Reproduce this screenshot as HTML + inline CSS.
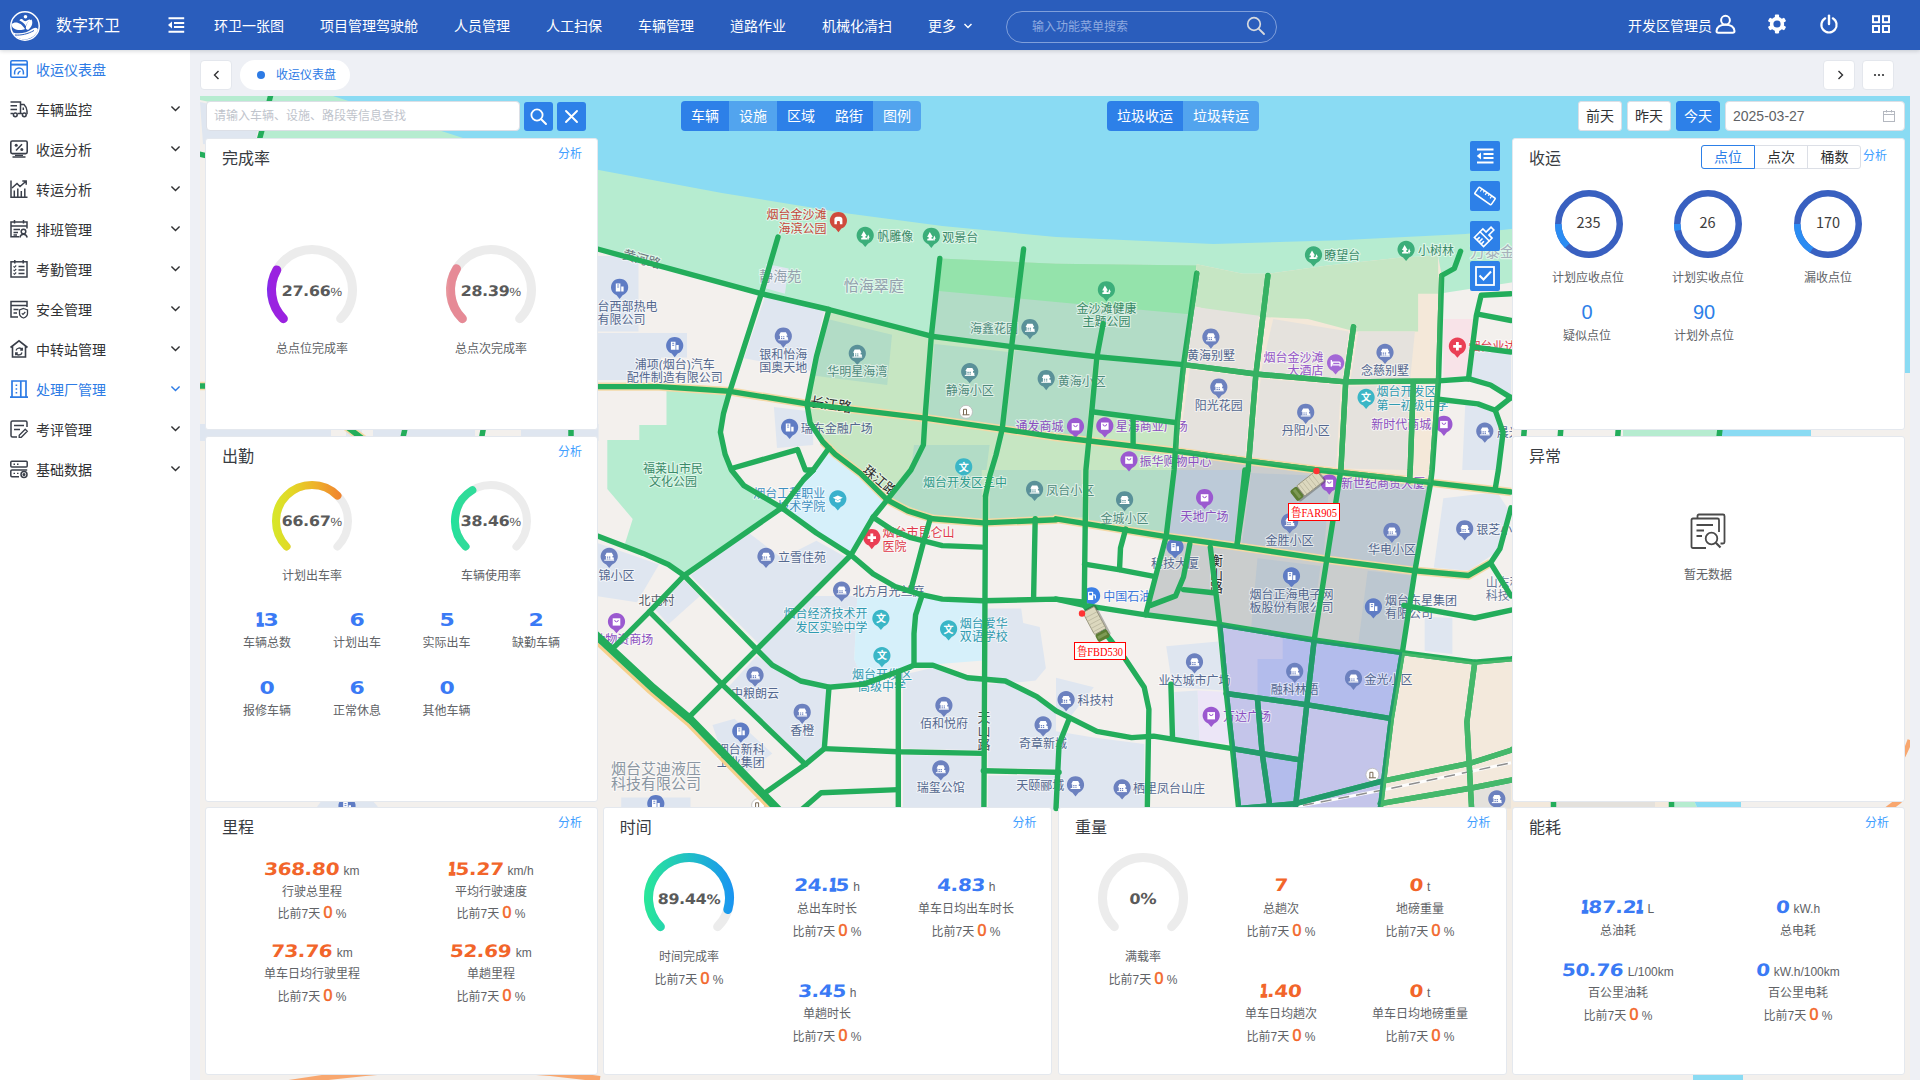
<!DOCTYPE html>
<html lang="zh-CN">
<head>
<meta charset="utf-8">
<title>数字环卫 - 收运仪表盘</title>
<style>
*{box-sizing:border-box;margin:0;padding:0}
html,body{width:1920px;height:1080px;overflow:hidden;background:#eef0f5;font-family:"Liberation Sans","Noto Sans CJK SC",sans-serif;font-size:14px;color:#303133}
.abs{position:absolute}
/* top nav */
#nav{position:absolute;left:0;top:0;width:1920px;height:50px;background:#2a5dbc;color:#fff;z-index:20;box-shadow:0 1px 4px rgba(0,21,41,.18)}
#nav .logo{position:absolute;left:10px;top:10px;width:30px;height:30px}
#nav .brand{position:absolute;left:56px;top:0;line-height:52px;font-size:16px}
#nav .fold{position:absolute;left:167px;top:16px;width:18px;height:18px}
#nav .menu{position:absolute;left:196px;top:0;height:50px;display:flex}
#nav .menu div{padding:0 18px;line-height:52px;font-size:14px;white-space:nowrap}
#nav .search{position:absolute;left:1006px;top:11px;width:271px;height:32px;border:1px solid #7f9fdb;border-radius:16px;font-size:12px;line-height:31px;color:#8eaae0;padding-left:25px}
#nav .user{position:absolute;left:1628px;top:0;line-height:52px;font-size:14px}
/* sidebar */
#side{position:absolute;left:0;top:50px;width:190px;height:1030px;background:#fff;z-index:10}
#side .it{position:relative;height:40px;line-height:40px;padding-left:36px;font-size:14px;color:#303133}
#side .it svg.ic{position:absolute;left:9px;top:9.2px;width:20px;height:20px}
#side .it svg.ar{position:absolute;left:169.5px;top:13.3px;width:11px;height:11px}
#side .it.on{color:#2d7be5}
/* tabs */
#tabs{position:absolute;left:190px;top:50px;width:1730px;height:46px}
.tbtn{position:absolute;top:10px;height:30px;background:#fff;border:1px solid #e4e7ed;border-radius:4px}
#tabs .pill{position:absolute;left:50px;top:10px;height:30px;width:110px;white-space:nowrap;border-radius:15px;background:#fff;color:#2d7be5;font-size:12px;line-height:30px;padding-left:36px}
#tabs .pill i{position:absolute;left:17px;top:11px;width:8px;height:8px;border-radius:50%;background:#2d7be5}
/* map */
#map{position:absolute;left:200px;top:96px;width:1710px;height:984px;overflow:hidden;background:#f3f0ed}
#map svg.m{position:absolute;left:0;top:0}
/* toolbar */
.bar{position:absolute;top:101px;height:30px;z-index:5}
.inp{background:#fff;border:1px solid #dcdfe6;border-radius:4px}
.bg{display:flex;border-radius:4px;overflow:hidden;font-size:14px;color:#fff;line-height:30px;text-align:center}
.bg div{background:#2d80e8}
.bg div.l{background:#52a4ee}
.sq{position:absolute;background:#2d80e8;border-radius:3px}
.db{position:absolute;top:101px;height:30px;width:44px;border:1px solid #dcdfe6;border-radius:3px;background:#fff;font-size:14px;line-height:28px;text-align:center;color:#303133;z-index:5}
/* panels */
.card{position:absolute;background:#fff;border:1px solid #e4e8ee;border-radius:3px;z-index:4}
.card h3{position:absolute;left:16px;top:9.5px;font-size:16px;font-weight:400;color:#383c42;line-height:22px}
.card .an{position:absolute;right:15px;top:7px;font-size:12px;color:#409eff;line-height:16px}
.c{position:absolute;text-align:center;white-space:nowrap;transform:translateX(-50%)}
.lb{font-size:12px;color:#606266;line-height:16px}
.num{font-family:"DejaVu Sans","Liberation Sans",sans-serif;font-weight:bold;letter-spacing:-0.3px}
.n1{display:inline-block;width:.35em;font-style:normal}.n1 i{display:inline-block;font-style:normal;transform:scaleX(.55);transform-origin:0 50%;-webkit-text-stroke:1.3px currentColor}
.or{color:#f2652a}.bl{color:#3a7af5}.gy{color:#5a5a5a}
.u{font-family:"Liberation Sans",sans-serif;font-weight:400;font-size:12px;color:#606266;letter-spacing:0}
.cmp{font-size:12px;color:#606266;line-height:18px}
.cmp b{font-family:"Liberation Sans",sans-serif;font-size:16px;font-weight:400;color:#f2652a;-webkit-text-stroke:.5px #f2652a}
</style>
</head>
<body>
<div id="nav">
  <svg class="logo" viewBox="0 0 30 30" style="top:10.5px"><circle cx="15" cy="15" r="14.2" fill="none" stroke="#fff" stroke-width="1.5"/>
    <path d="M1.5 13 C5 10 11 11 15 18 C12 19.5 7 19.5 4 17.5 C2.5 16.5 1.7 15 1.5 13Z M16 18 C15.5 14 17.5 10.5 21.5 8.5 C23.5 12 21.5 16.5 18 19Z M3 21.5 C9 23.5 17 22 23 17.5 C26 16 27.5 17 28 19 C25 26.5 17.5 29.5 11 28 C7 27 4.5 24.5 3 21.5Z" fill="#fff"/>
    <circle cx="15.5" cy="5.7" r="1.8" fill="#fff"/><path d="M9.5 9.5 C10 7.5 12.5 7.5 13 9 C14 10.5 16.5 10.5 18 9 C19 8 20.5 8.5 20.5 9.5 C18 10.5 16.5 12.5 15.8 15 C14.5 12.5 12 10.5 9.5 9.5Z" fill="#fff"/>
    <path d="M5 24 C11 24.5 18 23 24 19.5" stroke="#2a5dbc" stroke-width="1" fill="none"/></svg>
  <div class="brand">数字环卫</div>
  <svg class="fold" viewBox="0 0 18 18"><path d="M1.5 2.2H17.2M7 7H17.2M7 11H17.2M1.5 15.8H17.2" stroke="#fff" stroke-width="1.9" fill="none"/><path d="M5 5.6V12.4L1 9Z" fill="#fff"/></svg>
  <div class="menu"><div>环卫一张图</div><div>项目管理驾驶舱</div><div>人员管理</div><div>人工扫保</div><div>车辆管理</div><div>道路作业</div><div>机械化清扫</div><div>更多 <svg width="10" height="10" viewBox="0 0 10 10" style="margin-left:3px"><path d="M1.5 3L5 6.6L8.5 3" stroke="#fff" stroke-width="1.4" fill="none"/></svg></div></div>
  <div class="search">输入功能菜单搜索<svg class="abs" style="left:238px;top:2.5px" width="22" height="22" viewBox="0 0 22 22"><circle cx="9" cy="9" r="6.3" fill="none" stroke="#d6d9de" stroke-width="1.7"/><path d="M13.6 13.6L19 19" stroke="#d6d9de" stroke-width="1.9" stroke-linecap="round"/></svg></div>
  <div class="user">开发区管理员</div>
  <svg class="abs" style="left:1715px;top:14px" width="21" height="20" viewBox="0 0 21 20"><circle cx="10.5" cy="6.2" r="4.4" fill="none" stroke="#fff" stroke-width="2"/><path d="M1.5 17 C2 13 5.5 10.8 10.5 10.8 C15.500 10.8 19 13 19.500 17 C19.500 18.300 18.800 18.800 17.800 18.800 H3.200 C2.200 18.800 1.500 18.300 1.500 17Z" fill="none" stroke="#fff" stroke-width="2"/></svg>
  <svg class="abs" style="left:1767px;top:14px" width="20" height="20" viewBox="0 0 20 20"><g fill="#fff"><circle cx="10" cy="10" r="7.2"/><g id="gt"><rect x="7.9" y="0.6" width="4.2" height="4" rx="0.8"/><rect x="7.9" y="15.4" width="4.2" height="4" rx="0.8"/></g><use href="#gt" transform="rotate(60 10 10)"/><use href="#gt" transform="rotate(120 10 10)"/></g><circle cx="10" cy="10" r="3.6" fill="#2a5dbc"/></svg>
  <svg class="abs" style="left:1819px;top:14px" width="20" height="20" viewBox="0 0 20 20"><path d="M6.2 4.300 A7.600 7.600 0 1 0 13.800 4.300" fill="none" stroke="#fff" stroke-width="2.2" stroke-linecap="round"/><path d="M10 1.600V10" stroke="#fff" stroke-width="2.4" stroke-linecap="round"/></svg>
  <svg class="abs" style="left:1871px;top:14px" width="20" height="20" viewBox="0 0 20 20"><g fill="none" stroke="#fff" stroke-width="2"><rect x="2" y="2.200" width="6" height="6"/><rect x="12" y="2.200" width="6" height="6"/><rect x="2" y="12" width="6" height="6"/><rect x="12" y="12" width="6" height="6"/></g></svg>
</div>
<div id="side">
<div class="it on"><svg class="ic" viewBox="0 0 20 20" fill="none" stroke="#2d7be5" stroke-width="1.6"><rect x="1.8" y="1.8" width="16.4" height="16.4" rx="1.2"/><path d="M1.8 5.6H18.2" stroke-width="2"/><path d="M5.6 15.5V13.5A4.4 4.400 0 0 1 14.400 13.500V15.500" stroke-width="1.500"/><path d="M9 15.500C9 13.800 10 12.800 11.500 12.200" stroke-width="1.400"/></svg>收运仪表盘</div>
<div class="it"><svg class="ic" viewBox="0 0 20 20" fill="none" stroke="#3a3f4a" stroke-width="1.500"><path d="M1.500 3H11.500V14.600H8.500M1.500 6.800H8M1.500 10.600H8M1.500 14.600H4.200M11.500 5.500H15C17 7.500 18 9.500 18 12V14.600H17.500M11.500 14.600H13.200"/><circle cx="6.300" cy="15.800" r="1.900"/><circle cx="15.300" cy="15.800" r="1.900"/><path d="M14.300 8.500V11" /></svg>车辆监控<svg class="ar" viewBox="0 0 10 10"><path d="M1.300 3.200L5 6.800L8.700 3.200" stroke="#303133" stroke-width="1.300" fill="none"/></svg></div>
<div class="it"><svg class="ic" viewBox="0 0 20 20" fill="none" stroke="#3a3f4a" stroke-width="1.600"><rect x="1.800" y="2" width="16.400" height="12.600" rx="1.500"/><path d="M3.500 18H16.500M6 16.300H14" stroke-width="1.300"/><path d="M13 5.200L7 11.500" stroke-width="1.500"/><circle cx="7.200" cy="6.300" r="1.500" fill="#3a3f4a" stroke="none"/><circle cx="12.800" cy="10.500" r="1.500" fill="#3a3f4a" stroke="none"/></svg>收运分析<svg class="ar" viewBox="0 0 10 10"><path d="M1.300 3.200L5 6.800L8.700 3.200" stroke="#303133" stroke-width="1.300" fill="none"/></svg></div>
<div class="it"><svg class="ic" viewBox="0 0 20 20" fill="none" stroke="#3a3f4a" stroke-width="1.500"><path d="M2 1.500V18.200H18.500"/><path d="M5.300 18V11.500M8.800 18V9.500M12.300 18V12M15.800 18V9.500"/><path d="M3 9L8 4.500L11 7.500L17 2.200M13.300 2H17.200V5.800"/></svg>转运分析<svg class="ar" viewBox="0 0 10 10"><path d="M1.300 3.200L5 6.800L8.700 3.200" stroke="#303133" stroke-width="1.300" fill="none"/></svg></div>
<div class="it"><svg class="ic" viewBox="0 0 20 20" fill="none" stroke="#3a3f4a" stroke-width="1.500"><path d="M10 17.800H2V3H18V9.500M2 7H18M5.500 1V4.500M14.500 1V4.500M4.500 10.500H11M4.500 13.500H9M4.500 16H8"/><circle cx="14.500" cy="12.500" r="2.300"/><path d="M10.800 18.500C11.300 16.300 12.800 15.300 14.500 15.300C16.200 15.300 17.700 16.300 18.200 18.500"/></svg>排班管理<svg class="ar" viewBox="0 0 10 10"><path d="M1.300 3.200L5 6.800L8.700 3.200" stroke="#303133" stroke-width="1.300" fill="none"/></svg></div>
<div class="it"><svg class="ic" viewBox="0 0 20 20" fill="none" stroke="#3a3f4a" stroke-width="1.500"><rect x="2" y="2.800" width="16" height="15.200"/><path d="M5.800 1V4.500M14.200 1V4.500M9.500 7.500H15.500M9.500 11H15.500M9.500 14.500H15.500" /><path d="M4.500 7.300L5.500 8.300L7.200 6.500M4.500 10.800L5.500 11.800L7.200 10M4.500 14.300L5.500 15.300L7.200 13.500" stroke-width="1.100"/></svg>考勤管理<svg class="ar" viewBox="0 0 10 10"><path d="M1.300 3.200L5 6.800L8.700 3.200" stroke="#303133" stroke-width="1.300" fill="none"/></svg></div>
<div class="it"><svg class="ic" viewBox="0 0 20 20" fill="none" stroke="#3a3f4a" stroke-width="1.500"><path d="M9 18H2V2.500H18V8M2 6.500H18M4.500 10.500H9.500M4.500 14H8"/><path d="M14.500 9.500L18.500 11V14.500C18.500 16.500 16.500 18.300 14.500 19C12.500 18.300 10.500 16.500 10.500 14.500V11Z" stroke-width="1.300"/><path d="M12.800 14.300L14 15.500L16.300 13" stroke-width="1.200"/></svg>安全管理<svg class="ar" viewBox="0 0 10 10"><path d="M1.300 3.200L5 6.800L8.700 3.200" stroke="#303133" stroke-width="1.300" fill="none"/></svg></div>
<div class="it"><svg class="ic" viewBox="0 0 20 20" fill="none" stroke="#3a3f4a" stroke-width="1.600"><path d="M1.500 8.500L10 1.800L18.500 8.500M3.500 7.500V18H16.500V7.500"/><path d="M7 11.500A3.200 3.200 0 0 1 13 10.800M13 13.500A3.200 3.200 0 0 1 7 14.200M13.300 8.800V11H11.200M6.700 16.200V14H8.800" stroke-width="1.300"/></svg>中转站管理<svg class="ar" viewBox="0 0 10 10"><path d="M1.300 3.200L5 6.800L8.700 3.200" stroke="#303133" stroke-width="1.300" fill="none"/></svg></div>
<div class="it on"><svg class="ic" viewBox="0 0 20 20" fill="none" stroke="#2d7be5" stroke-width="1.700"><path d="M3 18V2H17V18M1 18.200H19M11.800 2V18"/><path d="M7.400 5.500V7M7.400 9.300V10.800M7.400 13V14.500" stroke-width="1.600"/></svg>处理厂管理<svg class="ar" viewBox="0 0 10 10"><path d="M1.300 3.200L5 6.800L8.700 3.200" stroke="#2d7be5" stroke-width="1.300" fill="none"/></svg></div>
<div class="it"><svg class="ic" viewBox="0 0 20 20" fill="none" stroke="#3a3f4a" stroke-width="1.500"><path d="M8 18H3.500C2.500 18 2 17.500 2 16.500V3.500C2 2.500 2.500 2 3.500 2H16.500C17.500 2 18 2.500 18 3.500V8M5 6.500H15M5 10.500H11"/><path d="M16.200 10.200L18.300 12.300L12.300 18.300H10.200V16.200Z" stroke-width="1.300"/></svg>考评管理<svg class="ar" viewBox="0 0 10 10"><path d="M1.300 3.200L5 6.800L8.700 3.200" stroke="#303133" stroke-width="1.300" fill="none"/></svg></div>
<div class="it"><svg class="ic" viewBox="0 0 20 20" fill="none" stroke="#3a3f4a" stroke-width="1.500"><rect x="1.800" y="2.300" width="16.400" height="5.700" rx="1"/><path d="M10 17.700H3C2.300 17.700 1.800 17.200 1.800 16.500V12C1.800 11.400 2.300 11 3 11H18.200"/><path d="M4.500 5.200H6M8 5.200H9.500M4.500 14.400H6M8 14.400H9.500" stroke-width="1.400"/><circle cx="15" cy="15.500" r="3"/><circle cx="15" cy="15.500" r="0.800" fill="#3a3f4a"/></svg>基础数据<svg class="ar" viewBox="0 0 10 10"><path d="M1.300 3.200L5 6.800L8.700 3.200" stroke="#303133" stroke-width="1.300" fill="none"/></svg></div>
</div>
<div id="tabs">
  <div class="tbtn" style="left:10px;width:32px"><svg class="abs" style="left:10px;top:8px" width="12" height="12" viewBox="0 0 12 12"><path d="M7.500 2L3.500 6L7.500 10" stroke="#303133" stroke-width="1.400" fill="none"/></svg></div>
  <div class="pill"><i></i>收运仪表盘</div>
  <div class="tbtn" style="left:1633px;width:32px"><svg class="abs" style="left:10px;top:8px" width="12" height="12" viewBox="0 0 12 12"><path d="M4.500 2L8.500 6L4.500 10" stroke="#303133" stroke-width="1.400" fill="none"/></svg></div>
  <div class="tbtn" style="left:1672px;width:32px"><svg class="abs" style="left:9px;top:8px" width="14" height="12" viewBox="0 0 14 12"><circle cx="3" cy="6" r="1.100" fill="#303133"/><circle cx="7" cy="6" r="1.100" fill="#303133"/><circle cx="11" cy="6" r="1.100" fill="#303133"/></svg></div>
</div>
<div id="map"><svg class="m" width="1710" height="984" viewBox="200 96 1710 984"><rect x="200" y="96" width="1710" height="984" fill="#f3f0ed"/>
<polygon points="596.0,255.9 638.5,255.9 638.5,331.5 596.0,331.5" fill="#dfe6f0" />
<polygon points="597.0,333.0 687.0,333.0 687.0,357.4 661.0,357.4 661.0,380.0 597.0,380.0" fill="#dfe6f0" />
<polygon points="766.0,293.7 824.3,311.0 810.1,370.9 744.0,358.3" fill="#dfe6f0" />
<polygon points="773.9,407.1 813.2,411.8 813.2,444.9 777.0,448.0" fill="#dfe6f0" />
<polygon points="596.0,542.4 659.0,564.5 636.9,602.2 596.0,595.9" fill="#dfe6f0" />
<polygon points="690.5,575.5 747.1,531.4 781.8,558.2 816.4,540.8 847.9,558.2 759.7,644.7" fill="#dfe6f0" />
<polygon points="654.2,608.5 684.2,580.2 699.9,595.9 668.4,624.3" fill="#dfe6f0" />
<polygon points="784.9,595.9 857.3,595.9 854.2,658.9 863.6,682.5 830.6,687.2 800.7,681.0 772.3,665.2 761.3,649.5" fill="#dfe6f0" />
<polygon points="728.2,687.2 756.6,655.8 772.3,666.8 800.7,682.5 827.4,688.8 822.7,747.1 805.4,761.2" fill="#dfe6f0" />
<polygon points="712.5,725.0 734.5,718.7 772.3,753.4 747.1,772.3 721.9,753.4" fill="#dfe6f0" />
<polygon points="903.0,674.7 932.9,667.7 967.5,679.4 981.7,681.0 981.7,750.2 903.0,748.6" fill="#dfe6f0" />
<polygon points="903.0,754.9 981.7,756.5 981.7,810.0 903.0,810.0" fill="#dfe6f0" />
<polygon points="988.0,684.1 1005.3,682.5 1036.8,698.3 1056.0,712.4 1056.0,769.1 988.0,767.5" fill="#dfe6f0" />
<polygon points="988.0,775.4 1056.0,775.4 1056.0,810.0 988.0,810.0" fill="#dfe6f0" />
<polygon points="621.2,797.4 690.5,797.4 690.5,810.0 621.2,810.0" fill="#dfe6f0" />
<polygon points="987.3,608.6 1021.2,608.6 1023.2,623.0 1039.7,627.1 1045.9,668.2 1035.6,680.5 1017.1,682.6 987.3,676.4" fill="#dfe6f0" />
<polygon points="1056.0,677.8 1093.8,687.2 1068.6,718.7 1056.0,712.4" fill="#dfe6f0" />
<polygon points="1056.0,731.3 1093.8,737.6 1144.2,743.9 1144.2,808.5 1056.0,808.5" fill="#dfe6f0" />
<polygon points="1166.2,646.3 1218.1,641.6 1224.4,690.4 1172.5,687.2" fill="#dfe6f0" />
<polygon points="1174.1,692.0 1197.7,690.4 1199.3,740.8 1174.1,737.6" fill="#dfe6f0" />
<polygon points="1443.3,498.3 1496.8,492.0 1509.4,510.9 1496.8,551.9 1468.5,570.8 1433.8,567.6" fill="#dfe6f0" />
<polygon points="1424.7,616.7 1452.4,618.0 1452.4,653.9 1424.7,651.0" fill="#dfe6f0" />
<polygon points="1474.8,350.4 1511.0,353.5 1511.0,397.6 1492.1,385.0 1468.5,378.7" fill="#dfe6f0" />
<polygon points="1465.3,403.9 1495.2,411.8 1503.1,432.3 1499.9,470.0 1462.2,470.0" fill="#dfe6f0" />
<polygon points="1197.7,690.4 1227.6,692.0 1230.7,743.9 1199.3,740.8" fill="#ece6f7" />
<polygon points="1443.3,318.9 1477.9,318.9 1471.6,375.6 1443.3,377.2" fill="#f8e3e8" />
<polygon points="784.9,509.4 803.8,479.4 821.0,462.0 829.0,449.0 835.3,454.3 860.4,473.4 887.2,499.9 873.1,517.2 852.6,553.4 816.4,531.4" fill="#d6f0fa" />
<polygon points="857.3,595.9 920.3,595.9 983.3,600.7 983.3,660.5 932.9,664.6 914.0,664.6 898.3,671.5 863.6,683.5 854.2,658.9" fill="#d6f0fa" />
<polygon points="200.0,96.0 195.0,153.0 400.0,201.0 597.6,249.0 761.3,293.7 829.0,309.5 931.3,336.2 1011.6,346.6 1056.0,352.0 1056.0,352.0 1056.0,315.8 1197.7,315.8 1197.7,331.5 1438.5,331.5 1438.5,293.7 1560.0,275.0 1910.0,250.0 1910.0,96.0" fill="#b6ecd0" />
<polygon points="666.5,390.0 729.8,392.0 720.4,432.3 731.4,470.0 744.0,485.7 781.8,507.8 684.2,575.5 668.4,564.5 643.2,553.4 623.3,549.0 632.7,519.0 607.3,489.0 607.3,440.1 639.3,440.1 639.3,425.1 666.5,425.1" fill="#b6ecd0" />
<polygon points="200.0,96.0 333.0,96.0 463.0,138.0 596.0,169.4 721.9,193.0 847.9,213.4 942.3,226.0 1056.0,237.0 1213.4,244.0 1339.4,240.2 1465.3,233.9 1520.0,228.0 1700.0,205.0 1910.0,190.0 1910.0,96.0" fill="#8adbf3" />
<polygon points="766.0,263.8 788.7,268.5 784.9,293.7 762.9,287.4" fill="#dfe6f0" />
<polygon points="1898.0,96.0 1910.0,96.0 1910.0,373.0 1898.0,373.0" fill="#8adbf3" />
<polygon points="1898.0,373.0 1910.0,373.0 1910.0,1080.0 1898.0,1080.0" fill="#f3f0ed" />
<polygon points="200.0,100.0 215.0,103.0 262.0,128.0 252.0,167.0 200.0,154.0" fill="#f3f0ed" />
<polygon points="200.0,102.0 214.0,105.0 258.0,129.0 254.0,150.0 203.0,144.0" fill="#dfe6f0" />
<polygon points="200.0,1072.0 1910.0,1072.0 1910.0,1080.0 200.0,1080.0" fill="#f3f0ed" />
<path d="M283 1084Q440 1056 600 1079" fill="none" stroke="#f8a76f" stroke-width="6"/>
<path d="M1893 770Q1903 760 1910 740" fill="none" stroke="#f8a76f" stroke-width="5"/>
<polygon points="1693.0,1074.0 1743.0,1074.0 1743.0,1080.0 1693.0,1080.0" fill="#8adbf3" />
<polygon points="829.0,309.5 931.3,336.2 939.8,258.5 1056.0,263.8 1056.0,263.8 1197.7,265.4 1196.7,273.3 1183.5,364.6 1177.2,422.8 1174.1,470.0 1166.2,536.1 1056.0,518.8 983.3,522.0 932.9,518.8 887.2,499.9 860.4,473.4 835.3,454.3 822.7,441.7 810.1,422.8 807.0,403.9 816.4,356.7 829.0,309.5" fill="#c6e6c2" />
<polygon points="939.8,258.5 1056.0,263.8 1056.0,263.8 1197.7,265.4 1183.5,364.6 1096.9,356.7 1056.0,352.0 1011.6,346.6 931.3,336.2" fill="#b2dcc6" />
<polygon points="939.8,258.5 1056.0,263.8 1056.0,263.8 1197.7,265.4 1194.9,314.8 1056.0,301.9 1056.0,301.9 938.6,290.9" fill="#94e3ab" />
<polygon points="1196.8,264.3 1242.7,273.8 1267.5,273.8 1325.8,265.7 1398.8,257.7 1438.0,255.5 1441.7,275.5 1438.5,380.9 1432.2,470.0 1430.7,482.6 1317.3,470.0 1244.9,460.6 1175.6,451.1 1177.2,422.8 1183.5,364.6" fill="#f4e8d9" />
<polygon points="1196.8,264.3 1242.7,273.8 1267.5,273.8 1325.8,265.7 1398.8,257.7 1438.0,255.5 1438.5,293.7 1418.1,293.7 1418.1,331.5 1355.1,331.5 1307.9,318.9 1232.3,315.8 1194.5,306.3" fill="#c6e6c4" />
<polygon points="1174.1,470.0 1175.6,451.1 1244.9,460.6 1317.3,470.0 1430.7,482.6 1414.9,570.8 1402.3,652.6 1314.2,640.0 1219.7,624.3 1145.7,614.8 1150.5,595.9 1166.2,536.1" fill="#cacdcd" />
<polygon points="1219.7,624.3 1314.2,640.0 1402.3,652.6 1391.3,718.7 1380.3,808.5 1378.0,830.0 1240.0,830.0 1238.6,808.5 1232.3,747.1 1226.0,690.4" fill="#c4c5ea" />
<polygon points="1282.7,636.9 1402.3,654.2 1391.3,717.2 1306.3,704.6 1257.5,698.3 1257.5,658.9 1282.7,658.9" fill="#b3bcec" />
<polygon points="1262.2,753.4 1298.4,759.7 1295.3,808.5 1270.1,808.5" fill="#b3bcec" />
<polygon points="1402.3,652.6 1474.8,662.1 1511.0,658.9 1530.0,655.0 1530.0,830.0 1378.0,830.0 1380.3,808.5 1391.3,718.7" fill="#f3e9dc" />
<polygon points="1474.8,788.0 1511.0,780.1 1511.0,808.5 1473.2,808.5" fill="#e4e1dc" />
<polygon points="827.4,318.9 892.0,334.7 887.2,385.0 813.2,375.6" fill="#b2dcc6" />
<polygon points="934.5,344.1 1008.5,352.0 1002.2,426.0 928.2,414.9" fill="#b2dcc6" />
<polygon points="1014.8,350.4 1056.0,355.1 1056.0,432.3 1005.3,426.0" fill="#b2dcc6" />
<polygon points="1056.0,355.1 1093.8,358.3 1085.9,438.6 1056.0,433.8" fill="#b2dcc6" />
<polygon points="1100.1,359.8 1181.9,366.1 1175.6,419.7 1093.8,410.2" fill="#b2dcc6" />
<polygon points="989.6,470.0 1056.0,470.0 1056.0,517.2 989.6,520.4" fill="#b2dcc6" />
<polygon points="1056.0,470.0 1081.2,470.0 1082.8,517.2 1056.0,517.2" fill="#b2dcc6" />
<polygon points="1089.1,470.0 1170.9,470.0 1164.6,533.0 1089.1,522.0" fill="#b2dcc6" />
<polygon points="910.9,470.0 981.7,470.0 981.7,520.4 934.5,517.2 890.4,498.3" fill="#b2dcc6" />
<polygon points="914.0,444.9 989.6,444.9 986.4,470.0 910.9,470.0" fill="#b2dcc6" />
<polygon points="1189.8,306.3 1259.1,315.8 1252.8,370.9 1186.7,363.0" fill="#e5e2dd" />
<polygon points="1189.8,369.3 1252.8,377.2 1244.9,457.4 1178.8,448.0" fill="#e5e2dd" />
<polygon points="1273.2,318.9 1348.8,331.5 1342.5,378.7 1260.7,372.4" fill="#e5e2dd" />
<polygon points="1260.7,378.7 1340.9,385.0 1336.2,466.9 1251.2,460.6" fill="#e5e2dd" />
<polygon points="1358.3,331.5 1414.9,331.5 1410.2,378.7 1350.4,380.3" fill="#e5e2dd" />
<polygon points="1348.8,386.6 1408.6,385.0 1407.1,470.0 1344.1,468.5" fill="#e5e2dd" />
<polygon points="1175.6,470.0 1241.8,470.0 1233.9,542.4 1169.3,534.5" fill="#bccad8" />
<polygon points="1251.2,473.1 1329.9,476.3 1323.6,556.6 1241.8,545.6" fill="#bcc7d0" />
<polygon points="1339.4,479.4 1427.5,485.7 1413.4,567.6 1329.9,558.2" fill="#bcc7d0" />
<polygon points="1257.5,558.2 1320.5,566.0 1311.0,636.9 1251.2,627.4" fill="#bcc7d0" />
<polygon points="1367.7,570.8 1411.8,575.5 1400.8,649.5 1358.3,643.2" fill="#bcc7d0" />
<g fill="none" stroke-linejoin="round">
<polyline points="200.0,386.0 597.6,386.6 659.0,386.6 729.8,391.3 807.0,403.9 925.0,418.1 1002.2,429.1 1056.0,437.0 1175.6,451.1 1244.9,460.6 1317.3,470.0 1430.7,482.6 1511.0,492.0" stroke="#f4d9a6" stroke-width="8.4" />
<polyline points="887.2,499.9 907.7,510.9 932.9,518.8 983.3,522.9 1056.0,519.7 1056.0,518.8 1163.0,536.1 1241.8,547.1 1326.8,559.7 1414.9,570.8 1468.5,575.5 1490.5,562.9" stroke="#f4d9a6" stroke-width="8.4" />
<polyline points="822.7,441.7 835.3,454.3 860.4,473.4 887.2,499.9" stroke="#f4d9a6" stroke-width="8.2" />
</g>
<g transform="translate(838.4,220.7)"><path d="M0 11.500L-3 7.900A8.600 8.600 0 1 1 3 7.900Z" fill="#cf4a3c"/><path d="M-4 3.500V-1.500C-4 -3.500 -2.500 -4 0 -4C2.500 -4 4 -3.500 4 -1.500V3.500H1.500V1C1.500 0 -1.500 0 -1.500 1V3.500Z" fill="#fff"/></g>
<g transform="translate(865.2,235.5)"><path d="M0 11.500L-3 7.900A8.600 8.600 0 1 1 3 7.900Z" fill="#3cae7a"/><path d="M-1.500 -4.500L1.500 0.500H0.300V2.300H2.500V4H-4V2.300H-2.700V0.500H-4.200Z M3 -1L4.500 2.300H3.600V4H2.800V2.300H1.800Z" fill="#fff"/></g>
<g transform="translate(931.3,236.4)"><path d="M0 11.500L-3 7.900A8.600 8.600 0 1 1 3 7.900Z" fill="#3cae7a"/><path d="M-1.500 -4.500L1.500 0.500H0.300V2.300H2.500V4H-4V2.300H-2.700V0.500H-4.200Z M3 -1L4.500 2.300H3.600V4H2.800V2.300H1.800Z" fill="#fff"/></g>
<g transform="translate(619.6,287.4)"><path d="M0 11.500L-3 7.900A8.600 8.600 0 1 1 3 7.900Z" fill="#5f7cc4"/><path d="M-3.800 4V-4H0.800V4Z M1.600 4V-0.800H4V4Z" fill="#fff"/><path d="M-2.500 -2.400H-0.500M-2.500 -0.400H-0.500" stroke="#5f7cc4" stroke-width="0.900"/></g>
<g transform="translate(674.7,345.7)"><path d="M0 11.500L-3 7.900A8.600 8.600 0 1 1 3 7.900Z" fill="#5f7cc4"/><path d="M-3.800 4V-4H0.800V4Z M1.600 4V-0.800H4V4Z" fill="#fff"/><path d="M-2.500 -2.400H-0.500M-2.500 -0.400H-0.500" stroke="#5f7cc4" stroke-width="0.900"/></g>
<g transform="translate(783.3,336.2)"><path d="M0 11.500L-3 7.900A8.600 8.600 0 1 1 3 7.900Z" fill="#6c81bf"/><path d="M-4.300 -0.700L-2.600 -3.900H2.600L4.300 -0.700Z M-3.300 -0.700H3.300V3.200H-3.300Z M3.300 1H4.600V3.200H3.300Z" fill="#fff"/><path d="M-2.300 0H-1V1.100H-2.300Z M-0.200 0H1.100V1.100H-0.200Z M-2.300 1.800H-1V2.900H-2.300Z M-0.200 1.800H1.100V2.900H-0.200Z" fill="#6c81bf"/><rect x="-4.900" y="3.100" width="9.800" height="1" fill="#fff"/></g>
<g transform="translate(857.3,353.5)"><path d="M0 11.500L-3 7.900A8.600 8.600 0 1 1 3 7.900Z" fill="#5a9199"/><path d="M-4.300 -0.700L-2.600 -3.900H2.600L4.300 -0.700Z M-3.300 -0.700H3.300V3.200H-3.300Z M3.300 1H4.600V3.200H3.300Z" fill="#fff"/><path d="M-2.300 0H-1V1.100H-2.300Z M-0.200 0H1.100V1.100H-0.200Z M-2.300 1.800H-1V2.900H-2.300Z M-0.200 1.800H1.100V2.900H-0.200Z" fill="#5a9199"/><rect x="-4.900" y="3.100" width="9.800" height="1" fill="#fff"/></g>
<g transform="translate(1029.9,327.7)"><path d="M0 11.500L-3 7.900A8.600 8.600 0 1 1 3 7.900Z" fill="#5a9199"/><path d="M-4.300 -0.700L-2.600 -3.900H2.600L4.300 -0.700Z M-3.300 -0.700H3.300V3.200H-3.300Z M3.300 1H4.600V3.200H3.300Z" fill="#fff"/><path d="M-2.300 0H-1V1.100H-2.300Z M-0.200 0H1.100V1.100H-0.200Z M-2.300 1.800H-1V2.900H-2.300Z M-0.200 1.800H1.100V2.900H-0.200Z" fill="#5a9199"/><rect x="-4.900" y="3.100" width="9.800" height="1" fill="#fff"/></g>
<g transform="translate(969.7,371.8)"><path d="M0 11.500L-3 7.900A8.600 8.600 0 1 1 3 7.900Z" fill="#5a9199"/><path d="M-4.300 -0.700L-2.600 -3.900H2.600L4.300 -0.700Z M-3.300 -0.700H3.300V3.200H-3.300Z M3.300 1H4.600V3.200H3.300Z" fill="#fff"/><path d="M-2.300 0H-1V1.100H-2.300Z M-0.200 0H1.100V1.100H-0.200Z M-2.300 1.800H-1V2.900H-2.300Z M-0.200 1.800H1.100V2.900H-0.200Z" fill="#5a9199"/><rect x="-4.900" y="3.100" width="9.800" height="1" fill="#fff"/></g>
<g transform="translate(1046.2,378.7)"><path d="M0 11.500L-3 7.900A8.600 8.600 0 1 1 3 7.900Z" fill="#5a9199"/><path d="M-4.300 -0.700L-2.600 -3.900H2.600L4.300 -0.700Z M-3.300 -0.700H3.300V3.200H-3.300Z M3.300 1H4.600V3.200H3.300Z" fill="#fff"/><path d="M-2.300 0H-1V1.100H-2.300Z M-0.200 0H1.100V1.100H-0.200Z M-2.300 1.800H-1V2.900H-2.300Z M-0.200 1.800H1.100V2.900H-0.200Z" fill="#5a9199"/><rect x="-4.900" y="3.100" width="9.800" height="1" fill="#fff"/></g>
<g transform="translate(789.6,427.5)"><path d="M0 11.500L-3 7.900A8.600 8.600 0 1 1 3 7.900Z" fill="#5f7cc4"/><path d="M-3.800 4V-4H0.800V4Z M1.600 4V-0.800H4V4Z" fill="#fff"/><path d="M-2.500 -2.400H-0.500M-2.500 -0.400H-0.500" stroke="#5f7cc4" stroke-width="0.900"/></g>
<g transform="translate(1075.5,426.6)"><path d="M0 11.500L-3 7.900A8.600 8.600 0 1 1 3 7.900Z" fill="#9b59d0"/><path d="M-3.800 -3.500H3.800V3.800H-3.800Z" fill="#fff"/><path d="M-1.800 -1.800A1.800 1.800 0 0 0 1.800 -1.800" fill="none" stroke="#9b59d0" stroke-width="1"/></g>
<g transform="translate(1313.5,255.0)"><path d="M0 11.500L-3 7.900A8.600 8.600 0 1 1 3 7.900Z" fill="#3cae7a"/><path d="M-1.500 -4.500L1.500 0.500H0.300V2.300H2.500V4H-4V2.300H-2.700V0.500H-4.200Z M3 -1L4.500 2.300H3.600V4H2.800V2.300H1.800Z" fill="#fff"/></g>
<g transform="translate(1406.1,249.6)"><path d="M0 11.500L-3 7.900A8.600 8.600 0 1 1 3 7.900Z" fill="#3cae7a"/><path d="M-1.500 -4.500L1.500 0.500H0.300V2.300H2.500V4H-4V2.300H-2.700V0.500H-4.200Z M3 -1L4.500 2.300H3.600V4H2.800V2.300H1.800Z" fill="#fff"/></g>
<g transform="translate(1106.4,289.9)"><path d="M0 11.500L-3 7.900A8.600 8.600 0 1 1 3 7.900Z" fill="#3cae7a"/><path d="M-1.500 -4.500L1.500 0.500H0.300V2.300H2.500V4H-4V2.300H-2.700V0.500H-4.200Z M3 -1L4.500 2.300H3.600V4H2.800V2.300H1.800Z" fill="#fff"/></g>
<g transform="translate(1210.9,337.2)"><path d="M0 11.500L-3 7.900A8.600 8.600 0 1 1 3 7.900Z" fill="#6c81bf"/><path d="M-4.300 -0.700L-2.600 -3.900H2.600L4.300 -0.700Z M-3.300 -0.700H3.300V3.200H-3.300Z M3.300 1H4.600V3.200H3.300Z" fill="#fff"/><path d="M-2.300 0H-1V1.100H-2.300Z M-0.200 0H1.100V1.100H-0.200Z M-2.300 1.800H-1V2.900H-2.300Z M-0.200 1.800H1.100V2.900H-0.200Z" fill="#6c81bf"/><rect x="-4.900" y="3.100" width="9.800" height="1" fill="#fff"/></g>
<g transform="translate(1335.6,363.0)"><path d="M0 11.500L-3 7.900A8.600 8.600 0 1 1 3 7.900Z" fill="#a368d6"/><path d="M-4.300 -3V3.500M-4.300 1.800H4.500V3.500M-3 1V-0.800H3.500C4.200 -0.800 4.500 -0.300 4.500 0.300V1" fill="none" stroke="#fff" stroke-width="1.300"/></g>
<g transform="translate(1385.0,352.6)"><path d="M0 11.500L-3 7.900A8.600 8.600 0 1 1 3 7.900Z" fill="#6c81bf"/><path d="M-4.300 -0.700L-2.600 -3.900H2.600L4.300 -0.700Z M-3.300 -0.700H3.300V3.200H-3.300Z M3.300 1H4.600V3.200H3.300Z" fill="#fff"/><path d="M-2.300 0H-1V1.100H-2.300Z M-0.200 0H1.100V1.100H-0.200Z M-2.300 1.800H-1V2.900H-2.300Z M-0.200 1.800H1.100V2.900H-0.200Z" fill="#6c81bf"/><rect x="-4.900" y="3.100" width="9.800" height="1" fill="#fff"/></g>
<g transform="translate(1218.8,387.2)"><path d="M0 11.500L-3 7.900A8.600 8.600 0 1 1 3 7.900Z" fill="#6c81bf"/><path d="M-4.300 -0.700L-2.600 -3.900H2.600L4.300 -0.700Z M-3.300 -0.700H3.300V3.200H-3.300Z M3.300 1H4.600V3.200H3.300Z" fill="#fff"/><path d="M-2.300 0H-1V1.100H-2.300Z M-0.200 0H1.100V1.100H-0.200Z M-2.300 1.800H-1V2.900H-2.300Z M-0.200 1.800H1.100V2.900H-0.200Z" fill="#6c81bf"/><rect x="-4.900" y="3.100" width="9.800" height="1" fill="#fff"/></g>
<g transform="translate(1366.1,397.6)"><path d="M0 11.500L-3 7.900A8.600 8.600 0 1 1 3 7.900Z" fill="#3ab6c6"/><text x="0" y="3.600" font-size="10" font-weight="700" text-anchor="middle" fill="#fff" font-family="Noto Sans CJK SC,sans-serif">文</text></g>
<g transform="translate(1305.7,412.4)"><path d="M0 11.500L-3 7.900A8.600 8.600 0 1 1 3 7.900Z" fill="#6c81bf"/><path d="M-4.300 -0.700L-2.600 -3.900H2.600L4.300 -0.700Z M-3.300 -0.700H3.300V3.200H-3.300Z M3.300 1H4.600V3.200H3.300Z" fill="#fff"/><path d="M-2.300 0H-1V1.100H-2.300Z M-0.200 0H1.100V1.100H-0.200Z M-2.300 1.800H-1V2.900H-2.300Z M-0.200 1.800H1.100V2.900H-0.200Z" fill="#6c81bf"/><rect x="-4.900" y="3.100" width="9.800" height="1" fill="#fff"/></g>
<g transform="translate(1443.9,424.4)"><path d="M0 11.500L-3 7.900A8.600 8.600 0 1 1 3 7.900Z" fill="#9b59d0"/><path d="M-3.800 -3.500H3.800V3.800H-3.800Z" fill="#fff"/><path d="M-1.800 -1.800A1.800 1.800 0 0 0 1.800 -1.800" fill="none" stroke="#9b59d0" stroke-width="1"/></g>
<g transform="translate(1104.8,426.0)"><path d="M0 11.500L-3 7.900A8.600 8.600 0 1 1 3 7.900Z" fill="#9b59d0"/><path d="M-3.800 -3.500H3.800V3.800H-3.800Z" fill="#fff"/><path d="M-1.800 -1.800A1.800 1.800 0 0 0 1.800 -1.800" fill="none" stroke="#9b59d0" stroke-width="1"/></g>
<g transform="translate(1129.0,460.0)"><path d="M0 11.500L-3 7.900A8.600 8.600 0 1 1 3 7.900Z" fill="#9b59d0"/><path d="M-3.800 -3.500H3.800V3.800H-3.800Z" fill="#fff"/><path d="M-1.800 -1.800A1.800 1.800 0 0 0 1.800 -1.800" fill="none" stroke="#9b59d0" stroke-width="1"/></g>
<g transform="translate(1457.4,346.3)"><path d="M0 11.500L-3 7.900A8.600 8.600 0 1 1 3 7.900Z" fill="#ea3f55"/><path d="M-1.400 -4.200H1.400V-1.400H4.200V1.400H1.400V4.200H-1.400V1.400H-4.200V-1.400H-1.400Z" fill="#fff"/></g>
<g transform="translate(1484.8,431.3)"><path d="M0 11.500L-3 7.900A8.600 8.600 0 1 1 3 7.900Z" fill="#6c81bf"/><path d="M-4.300 -0.700L-2.600 -3.900H2.600L4.300 -0.700Z M-3.300 -0.700H3.300V3.200H-3.300Z M3.300 1H4.600V3.200H3.300Z" fill="#fff"/><path d="M-2.300 0H-1V1.100H-2.300Z M-0.200 0H1.100V1.100H-0.200Z M-2.300 1.800H-1V2.900H-2.300Z M-0.200 1.800H1.100V2.900H-0.200Z" fill="#6c81bf"/><rect x="-4.900" y="3.100" width="9.800" height="1" fill="#fff"/></g>
<g transform="translate(837.8,499.0)"><path d="M0 11.500L-3 7.900A8.600 8.600 0 1 1 3 7.900Z" fill="#3ab1cc"/><path d="M0 -3.600L5 -1.200L0 1.200L-5 -1.200Z" fill="#fff"/><path d="M-2.800 0.300V2.600C-1.500 3.800 1.500 3.800 2.800 2.600V0.300L0 1.700Z" fill="#fff"/></g>
<g transform="translate(963.7,466.9)"><path d="M0 11.500L-3 7.900A8.600 8.600 0 1 1 3 7.900Z" fill="#3ab6c6"/><text x="0" y="3.600" font-size="10" font-weight="700" text-anchor="middle" fill="#fff" font-family="Noto Sans CJK SC,sans-serif">文</text></g>
<g transform="translate(1034.6,489.5)"><path d="M0 11.500L-3 7.900A8.600 8.600 0 1 1 3 7.900Z" fill="#5a9199"/><path d="M-4.300 -0.700L-2.600 -3.900H2.600L4.300 -0.700Z M-3.300 -0.700H3.300V3.200H-3.300Z M3.300 1H4.600V3.200H3.300Z" fill="#fff"/><path d="M-2.300 0H-1V1.100H-2.300Z M-0.200 0H1.100V1.100H-0.200Z M-2.300 1.800H-1V2.900H-2.300Z M-0.200 1.800H1.100V2.900H-0.200Z" fill="#5a9199"/><rect x="-4.900" y="3.100" width="9.800" height="1" fill="#fff"/></g>
<g transform="translate(871.8,537.7)"><path d="M0 11.500L-3 7.900A8.600 8.600 0 1 1 3 7.900Z" fill="#ea3f55"/><path d="M-1.400 -4.200H1.400V-1.400H4.200V1.400H1.400V4.200H-1.400V1.400H-4.200V-1.400H-1.400Z" fill="#fff"/></g>
<g transform="translate(766.0,556.6)"><path d="M0 11.500L-3 7.900A8.600 8.600 0 1 1 3 7.900Z" fill="#6c81bf"/><path d="M-4.300 -0.700L-2.600 -3.900H2.600L4.300 -0.700Z M-3.300 -0.700H3.300V3.200H-3.300Z M3.300 1H4.600V3.200H3.300Z" fill="#fff"/><path d="M-2.300 0H-1V1.100H-2.300Z M-0.200 0H1.100V1.100H-0.200Z M-2.300 1.800H-1V2.900H-2.300Z M-0.200 1.800H1.100V2.900H-0.200Z" fill="#6c81bf"/><rect x="-4.900" y="3.100" width="9.800" height="1" fill="#fff"/></g>
<g transform="translate(609.2,556.6)"><path d="M0 11.500L-3 7.900A8.600 8.600 0 1 1 3 7.900Z" fill="#6c81bf"/><path d="M-4.300 -0.700L-2.600 -3.900H2.600L4.300 -0.700Z M-3.300 -0.700H3.300V3.200H-3.300Z M3.300 1H4.600V3.200H3.300Z" fill="#fff"/><path d="M-2.300 0H-1V1.100H-2.300Z M-0.200 0H1.100V1.100H-0.200Z M-2.300 1.800H-1V2.900H-2.300Z M-0.200 1.800H1.100V2.900H-0.200Z" fill="#6c81bf"/><rect x="-4.900" y="3.100" width="9.800" height="1" fill="#fff"/></g>
<g transform="translate(841.6,590.3)"><path d="M0 11.500L-3 7.900A8.600 8.600 0 1 1 3 7.900Z" fill="#6c81bf"/><path d="M-4.300 -0.700L-2.600 -3.900H2.600L4.300 -0.700Z M-3.300 -0.700H3.300V3.200H-3.300Z M3.300 1H4.600V3.200H3.300Z" fill="#fff"/><path d="M-2.300 0H-1V1.100H-2.300Z M-0.200 0H1.100V1.100H-0.200Z M-2.300 1.800H-1V2.900H-2.300Z M-0.200 1.800H1.100V2.900H-0.200Z" fill="#6c81bf"/><rect x="-4.900" y="3.100" width="9.800" height="1" fill="#fff"/></g>
<g transform="translate(880.9,618.6)"><path d="M0 11.500L-3 7.900A8.600 8.600 0 1 1 3 7.900Z" fill="#3ab6c6"/><text x="0" y="3.600" font-size="10" font-weight="700" text-anchor="middle" fill="#fff" font-family="Noto Sans CJK SC,sans-serif">文</text></g>
<g transform="translate(948.6,629.0)"><path d="M0 11.500L-3 7.900A8.600 8.600 0 1 1 3 7.900Z" fill="#3ab6c6"/><text x="0" y="3.600" font-size="10" font-weight="700" text-anchor="middle" fill="#fff" font-family="Noto Sans CJK SC,sans-serif">文</text></g>
<g transform="translate(616.5,621.8)"><path d="M0 11.500L-3 7.900A8.600 8.600 0 1 1 3 7.900Z" fill="#9b59d0"/><path d="M-3.800 -3.500H3.800V3.800H-3.800Z" fill="#fff"/><path d="M-1.800 -1.800A1.800 1.800 0 0 0 1.800 -1.800" fill="none" stroke="#9b59d0" stroke-width="1"/></g>
<g transform="translate(881.9,655.8)"><path d="M0 11.500L-3 7.900A8.600 8.600 0 1 1 3 7.900Z" fill="#3ab6c6"/><text x="0" y="3.600" font-size="10" font-weight="700" text-anchor="middle" fill="#fff" font-family="Noto Sans CJK SC,sans-serif">文</text></g>
<g transform="translate(755.0,675.3)"><path d="M0 11.500L-3 7.900A8.600 8.600 0 1 1 3 7.900Z" fill="#6c81bf"/><path d="M-4.300 -0.700L-2.600 -3.900H2.600L4.300 -0.700Z M-3.300 -0.700H3.300V3.200H-3.300Z M3.300 1H4.600V3.200H3.300Z" fill="#fff"/><path d="M-2.300 0H-1V1.100H-2.300Z M-0.200 0H1.100V1.100H-0.200Z M-2.300 1.800H-1V2.900H-2.300Z M-0.200 1.800H1.100V2.900H-0.200Z" fill="#6c81bf"/><rect x="-4.900" y="3.100" width="9.800" height="1" fill="#fff"/></g>
<g transform="translate(802.2,712.4)"><path d="M0 11.500L-3 7.900A8.600 8.600 0 1 1 3 7.900Z" fill="#6c81bf"/><path d="M-4.300 -0.700L-2.600 -3.900H2.600L4.300 -0.700Z M-3.300 -0.700H3.300V3.200H-3.300Z M3.300 1H4.600V3.200H3.300Z" fill="#fff"/><path d="M-2.300 0H-1V1.100H-2.300Z M-0.200 0H1.100V1.100H-0.200Z M-2.300 1.800H-1V2.900H-2.300Z M-0.200 1.800H1.100V2.900H-0.200Z" fill="#6c81bf"/><rect x="-4.900" y="3.100" width="9.800" height="1" fill="#fff"/></g>
<g transform="translate(740.8,731.3)"><path d="M0 11.500L-3 7.900A8.600 8.600 0 1 1 3 7.900Z" fill="#5f7cc4"/><path d="M-3.800 4V-4H0.800V4Z M1.600 4V-0.800H4V4Z" fill="#fff"/><path d="M-2.500 -2.400H-0.500M-2.500 -0.400H-0.500" stroke="#5f7cc4" stroke-width="0.900"/></g>
<g transform="translate(943.9,705.5)"><path d="M0 11.500L-3 7.900A8.600 8.600 0 1 1 3 7.900Z" fill="#6c81bf"/><path d="M-4.300 -0.700L-2.600 -3.900H2.600L4.300 -0.700Z M-3.300 -0.700H3.300V3.200H-3.300Z M3.300 1H4.600V3.200H3.300Z" fill="#fff"/><path d="M-2.300 0H-1V1.100H-2.300Z M-0.200 0H1.100V1.100H-0.200Z M-2.300 1.800H-1V2.900H-2.300Z M-0.200 1.800H1.100V2.900H-0.200Z" fill="#6c81bf"/><rect x="-4.900" y="3.100" width="9.800" height="1" fill="#fff"/></g>
<g transform="translate(1043.1,725.0)"><path d="M0 11.500L-3 7.900A8.600 8.600 0 1 1 3 7.900Z" fill="#6c81bf"/><path d="M-4.300 -0.700L-2.600 -3.900H2.600L4.300 -0.700Z M-3.300 -0.700H3.300V3.200H-3.300Z M3.300 1H4.600V3.200H3.300Z" fill="#fff"/><path d="M-2.300 0H-1V1.100H-2.300Z M-0.200 0H1.100V1.100H-0.200Z M-2.300 1.800H-1V2.900H-2.300Z M-0.200 1.800H1.100V2.900H-0.200Z" fill="#6c81bf"/><rect x="-4.900" y="3.100" width="9.800" height="1" fill="#fff"/></g>
<g transform="translate(940.8,769.1)"><path d="M0 11.500L-3 7.900A8.600 8.600 0 1 1 3 7.900Z" fill="#6c81bf"/><path d="M-4.300 -0.700L-2.600 -3.900H2.600L4.300 -0.700Z M-3.300 -0.700H3.300V3.200H-3.300Z M3.300 1H4.600V3.200H3.300Z" fill="#fff"/><path d="M-2.300 0H-1V1.100H-2.300Z M-0.200 0H1.100V1.100H-0.200Z M-2.300 1.800H-1V2.900H-2.300Z M-0.200 1.800H1.100V2.900H-0.200Z" fill="#6c81bf"/><rect x="-4.900" y="3.100" width="9.800" height="1" fill="#fff"/></g>
<g transform="translate(655.8,803.7)"><path d="M0 11.500L-3 7.900A8.600 8.600 0 1 1 3 7.900Z" fill="#5f7cc4"/><path d="M-3.800 4V-4H0.800V4Z M1.600 4V-0.800H4V4Z" fill="#fff"/><path d="M-2.500 -2.400H-0.500M-2.500 -0.400H-0.500" stroke="#5f7cc4" stroke-width="0.900"/></g>
<g transform="translate(1124.6,499.9)"><path d="M0 11.500L-3 7.900A8.600 8.600 0 1 1 3 7.900Z" fill="#5a9199"/><path d="M-4.300 -0.700L-2.600 -3.900H2.600L4.300 -0.700Z M-3.300 -0.700H3.300V3.200H-3.300Z M3.300 1H4.600V3.200H3.300Z" fill="#fff"/><path d="M-2.300 0H-1V1.100H-2.300Z M-0.200 0H1.100V1.100H-0.200Z M-2.300 1.800H-1V2.900H-2.300Z M-0.200 1.800H1.100V2.900H-0.200Z" fill="#5a9199"/><rect x="-4.900" y="3.100" width="9.800" height="1" fill="#fff"/></g>
<g transform="translate(1204.6,497.7)"><path d="M0 11.500L-3 7.900A8.600 8.600 0 1 1 3 7.900Z" fill="#9b59d0"/><path d="M-3.800 -3.500H3.800V3.800H-3.800Z" fill="#fff"/><path d="M-1.800 -1.800A1.800 1.800 0 0 0 1.800 -1.800" fill="none" stroke="#9b59d0" stroke-width="1"/></g>
<g transform="translate(1329.3,483.2)"><path d="M0 11.500L-3 7.900A8.600 8.600 0 1 1 3 7.900Z" fill="#9b59d0"/><path d="M-3.800 -3.500H3.800V3.800H-3.800Z" fill="#fff"/><path d="M-1.800 -1.800A1.800 1.800 0 0 0 1.800 -1.800" fill="none" stroke="#9b59d0" stroke-width="1"/></g>
<g transform="translate(1289.6,522.0)"><path d="M0 11.500L-3 7.900A8.600 8.600 0 1 1 3 7.900Z" fill="#6c81bf"/><path d="M-4.300 -0.700L-2.600 -3.900H2.600L4.300 -0.700Z M-3.300 -0.700H3.300V3.200H-3.300Z M3.300 1H4.600V3.200H3.300Z" fill="#fff"/><path d="M-2.300 0H-1V1.100H-2.300Z M-0.200 0H1.100V1.100H-0.200Z M-2.300 1.800H-1V2.900H-2.300Z M-0.200 1.800H1.100V2.900H-0.200Z" fill="#6c81bf"/><rect x="-4.900" y="3.100" width="9.800" height="1" fill="#fff"/></g>
<g transform="translate(1391.9,531.4)"><path d="M0 11.500L-3 7.900A8.600 8.600 0 1 1 3 7.900Z" fill="#6c81bf"/><path d="M-4.300 -0.700L-2.600 -3.900H2.600L4.300 -0.700Z M-3.300 -0.700H3.300V3.200H-3.300Z M3.300 1H4.600V3.200H3.300Z" fill="#fff"/><path d="M-2.300 0H-1V1.100H-2.300Z M-0.200 0H1.100V1.100H-0.200Z M-2.300 1.800H-1V2.900H-2.300Z M-0.200 1.800H1.100V2.900H-0.200Z" fill="#6c81bf"/><rect x="-4.900" y="3.100" width="9.800" height="1" fill="#fff"/></g>
<g transform="translate(1464.7,528.9)"><path d="M0 11.500L-3 7.900A8.600 8.600 0 1 1 3 7.900Z" fill="#6c81bf"/><path d="M-4.300 -0.700L-2.600 -3.900H2.600L4.300 -0.700Z M-3.300 -0.700H3.300V3.200H-3.300Z M3.300 1H4.600V3.200H3.300Z" fill="#fff"/><path d="M-2.300 0H-1V1.100H-2.300Z M-0.200 0H1.100V1.100H-0.200Z M-2.300 1.800H-1V2.900H-2.300Z M-0.200 1.800H1.100V2.900H-0.200Z" fill="#6c81bf"/><rect x="-4.900" y="3.100" width="9.800" height="1" fill="#fff"/></g>
<g transform="translate(1175.0,547.1)"><path d="M0 11.500L-3 7.900A8.600 8.600 0 1 1 3 7.900Z" fill="#5f7cc4"/><path d="M-3.800 4V-4H0.800V4Z M1.600 4V-0.800H4V4Z" fill="#fff"/><path d="M-2.500 -2.400H-0.500M-2.500 -0.400H-0.500" stroke="#5f7cc4" stroke-width="0.900"/></g>
<g transform="translate(1291.5,576.1)"><path d="M0 11.500L-3 7.900A8.600 8.600 0 1 1 3 7.900Z" fill="#5f7cc4"/><path d="M-3.800 4V-4H0.800V4Z M1.600 4V-0.800H4V4Z" fill="#fff"/><path d="M-2.500 -2.400H-0.500M-2.500 -0.400H-0.500" stroke="#5f7cc4" stroke-width="0.900"/></g>
<g transform="translate(1373.4,607.0)"><path d="M0 11.500L-3 7.900A8.600 8.600 0 1 1 3 7.900Z" fill="#5f7cc4"/><path d="M-3.800 4V-4H0.800V4Z M1.600 4V-0.800H4V4Z" fill="#fff"/><path d="M-2.500 -2.400H-0.500M-2.500 -0.400H-0.500" stroke="#5f7cc4" stroke-width="0.900"/></g>
<g transform="translate(1091.6,595.9)"><path d="M0 11.500L-3 7.900A8.600 8.600 0 1 1 3 7.900Z" fill="#3b7fe6"/><path d="M-3.600 4V-3.300C-3.600 -3.900 -3.200 -4.200 -2.700 -4.200H0.700C1.200 -4.200 1.600 -3.900 1.600 -3.300V4Z" fill="#fff"/><rect x="-2.400" y="-3" width="2.800" height="2.300" fill="#3b7fe6"/><path d="M1.600 -1H2.800C3.500 -1 3.800 -0.600 3.800 0V2.500" fill="none" stroke="#fff" stroke-width="1.100"/></g>
<g transform="translate(1194.5,662.1)"><path d="M0 11.500L-3 7.900A8.600 8.600 0 1 1 3 7.900Z" fill="#6c81bf"/><path d="M-4.300 -0.700L-2.600 -3.900H2.600L4.300 -0.700Z M-3.300 -0.700H3.300V3.200H-3.300Z M3.300 1H4.600V3.200H3.300Z" fill="#fff"/><path d="M-2.300 0H-1V1.100H-2.300Z M-0.200 0H1.100V1.100H-0.200Z M-2.300 1.800H-1V2.900H-2.300Z M-0.200 1.800H1.100V2.900H-0.200Z" fill="#6c81bf"/><rect x="-4.900" y="3.100" width="9.800" height="1" fill="#fff"/></g>
<g transform="translate(1294.7,671.5)"><path d="M0 11.500L-3 7.900A8.600 8.600 0 1 1 3 7.900Z" fill="#6c81bf"/><path d="M-4.300 -0.700L-2.600 -3.900H2.600L4.300 -0.700Z M-3.300 -0.700H3.300V3.200H-3.300Z M3.300 1H4.600V3.200H3.300Z" fill="#fff"/><path d="M-2.300 0H-1V1.100H-2.300Z M-0.200 0H1.100V1.100H-0.200Z M-2.300 1.800H-1V2.900H-2.300Z M-0.200 1.800H1.100V2.900H-0.200Z" fill="#6c81bf"/><rect x="-4.900" y="3.100" width="9.800" height="1" fill="#fff"/></g>
<g transform="translate(1353.5,678.4)"><path d="M0 11.500L-3 7.900A8.600 8.600 0 1 1 3 7.900Z" fill="#6c81bf"/><path d="M-4.300 -0.700L-2.600 -3.900H2.600L4.300 -0.700Z M-3.300 -0.700H3.300V3.200H-3.300Z M3.300 1H4.600V3.200H3.300Z" fill="#fff"/><path d="M-2.300 0H-1V1.100H-2.300Z M-0.200 0H1.100V1.100H-0.200Z M-2.300 1.800H-1V2.900H-2.300Z M-0.200 1.800H1.100V2.900H-0.200Z" fill="#6c81bf"/><rect x="-4.900" y="3.100" width="9.800" height="1" fill="#fff"/></g>
<g transform="translate(1066.1,699.8)"><path d="M0 11.500L-3 7.900A8.600 8.600 0 1 1 3 7.900Z" fill="#6c81bf"/><path d="M-4.300 -0.700L-2.600 -3.900H2.600L4.300 -0.700Z M-3.300 -0.700H3.300V3.200H-3.300Z M3.300 1H4.600V3.200H3.300Z" fill="#fff"/><path d="M-2.300 0H-1V1.100H-2.300Z M-0.200 0H1.100V1.100H-0.200Z M-2.300 1.800H-1V2.900H-2.300Z M-0.200 1.800H1.100V2.900H-0.200Z" fill="#6c81bf"/><rect x="-4.900" y="3.100" width="9.800" height="1" fill="#fff"/></g>
<g transform="translate(1211.2,715.6)"><path d="M0 11.500L-3 7.900A8.600 8.600 0 1 1 3 7.900Z" fill="#9b59d0"/><path d="M-3.800 -3.500H3.800V3.800H-3.800Z" fill="#fff"/><path d="M-1.800 -1.800A1.800 1.800 0 0 0 1.800 -1.800" fill="none" stroke="#9b59d0" stroke-width="1"/></g>
<g transform="translate(1122.1,788.0)"><path d="M0 11.500L-3 7.900A8.600 8.600 0 1 1 3 7.900Z" fill="#6c81bf"/><path d="M-4.300 -0.700L-2.600 -3.900H2.600L4.300 -0.700Z M-3.300 -0.700H3.300V3.200H-3.300Z M3.300 1H4.600V3.200H3.300Z" fill="#fff"/><path d="M-2.300 0H-1V1.100H-2.300Z M-0.200 0H1.100V1.100H-0.200Z M-2.300 1.800H-1V2.900H-2.300Z M-0.200 1.800H1.100V2.900H-0.200Z" fill="#6c81bf"/><rect x="-4.900" y="3.100" width="9.800" height="1" fill="#fff"/></g>
<g transform="translate(1075.5,784.9)"><path d="M0 11.500L-3 7.900A8.600 8.600 0 1 1 3 7.900Z" fill="#6c81bf"/><path d="M-4.300 -0.700L-2.600 -3.900H2.600L4.300 -0.700Z M-3.300 -0.700H3.300V3.200H-3.300Z M3.300 1H4.600V3.200H3.300Z" fill="#fff"/><path d="M-2.300 0H-1V1.100H-2.300Z M-0.200 0H1.100V1.100H-0.200Z M-2.300 1.800H-1V2.900H-2.300Z M-0.200 1.800H1.100V2.900H-0.200Z" fill="#6c81bf"/><rect x="-4.900" y="3.100" width="9.800" height="1" fill="#fff"/></g>
<g transform="translate(1496.8,799.0)"><path d="M0 11.500L-3 7.900A8.600 8.600 0 1 1 3 7.900Z" fill="#6c81bf"/><path d="M-4.300 -0.700L-2.600 -3.900H2.600L4.300 -0.700Z M-3.300 -0.700H3.300V3.200H-3.300Z M3.300 1H4.600V3.200H3.300Z" fill="#fff"/><path d="M-2.300 0H-1V1.100H-2.300Z M-0.200 0H1.100V1.100H-0.200Z M-2.300 1.800H-1V2.900H-2.300Z M-0.200 1.800H1.100V2.900H-0.200Z" fill="#6c81bf"/><rect x="-4.900" y="3.100" width="9.800" height="1" fill="#fff"/></g>
<circle cx="966.0" cy="411.8" r="6.500" fill="#fff" stroke="#b9b9b9" stroke-width="0.800"/><path d="M963.5 414.8V409.3H966.5V414.8M962.5 414.8H969.5" stroke="#7a6a55" stroke-width="1" fill="none"/>
<circle cx="1372.4" cy="774.8" r="6.500" fill="#fff" stroke="#b9b9b9" stroke-width="0.800"/><path d="M1369.9 777.8V772.3H1372.9V777.8M1368.9 777.8H1375.9" stroke="#7a6a55" stroke-width="1" fill="none"/>
<circle cx="758.1" cy="805.3" r="6.500" fill="#fff" stroke="#b9b9b9" stroke-width="0.800"/><path d="M755.6 808.3V802.8H758.6V808.3M754.6 808.3H761.6" stroke="#7a6a55" stroke-width="1" fill="none"/>
<g font-family="Liberation Sans,Noto Sans CJK SC,sans-serif" stroke="#fff" stroke-width="2.200" stroke-linejoin="round" paint-order="stroke" stroke-opacity="0.550" style="paint-order:stroke"><text x="826.5" y="219.3" font-size="12" text-anchor="end" fill="#c4463a" font-weight="400">烟台金沙滩</text><text x="826.5" y="232.6" font-size="12" text-anchor="end" fill="#c4463a" font-weight="400">海滨公园</text><text x="877.2" y="241.4" font-size="12" text-anchor="start" fill="#3b8a68" font-weight="400">帆雕像</text><text x="942.3" y="242.3" font-size="12" text-anchor="start" fill="#3b8a68" font-weight="400">观景台</text><text x="780.2" y="280.5" font-size="14" text-anchor="middle" fill="#93a0ad" font-weight="400">静海苑</text><text x="873.7" y="291.3" font-size="15" text-anchor="middle" fill="#93a0ad" font-weight="400">怡海翠庭</text><text x="597.6" y="310.6" font-size="12" text-anchor="start" fill="#54688f" font-weight="400">台西部热电</text><text x="597.6" y="323.9" font-size="12" text-anchor="start" fill="#54688f" font-weight="400">有限公司</text><text x="674.7" y="368.5" font-size="12" text-anchor="middle" fill="#54688f" font-weight="400">浦项(烟台)汽车</text><text x="674.7" y="381.8" font-size="12" text-anchor="middle" fill="#54688f" font-weight="400">配件制造有限公司</text><text x="783.3" y="359.0" font-size="12" text-anchor="middle" fill="#54688f" font-weight="400">银和怡海</text><text x="783.3" y="372.3" font-size="12" text-anchor="middle" fill="#54688f" font-weight="400">国奥天地</text><text x="857.3" y="376.4" font-size="12" text-anchor="middle" fill="#4f8a7c" font-weight="400">华明星海湾</text><text x="1017.9" y="332.7" font-size="12" text-anchor="end" fill="#4f8a7c" font-weight="400">海鑫花园</text><text x="969.7" y="394.6" font-size="12" text-anchor="middle" fill="#4f8a7c" font-weight="400">静海小区</text><text x="831.0" y="409.5" font-size="14" text-anchor="middle" fill="#2b2b2b" font-weight="400" transform="rotate(8 831.0 404.5)">长江路</text><text x="641.7" y="263.8" font-size="13" text-anchor="middle" fill="#6c757d" font-weight="400" transform="rotate(15 641.7 259.1)">黄河路</text><text x="800.7" y="432.5" font-size="12" text-anchor="start" fill="#54688f" font-weight="400">瑞东金融广场</text><text x="1063.5" y="431.2" font-size="12" text-anchor="end" fill="#8a4fc0" font-weight="400">通发商城</text><text x="1324.3" y="260.3" font-size="12" text-anchor="start" fill="#3b8a68" font-weight="400">瞭望台</text><text x="1418.1" y="255.2" font-size="12" text-anchor="start" fill="#3b8a68" font-weight="400">小树林</text><text x="1470.0" y="256.6" font-size="15" text-anchor="start" fill="#a6b0ba" font-weight="400">万泰金</text><text x="1106.4" y="312.8" font-size="12" text-anchor="middle" fill="#3b8a68" font-weight="400">金沙滩健康</text><text x="1106.4" y="326.1" font-size="12" text-anchor="middle" fill="#3b8a68" font-weight="400">主题公园</text><text x="1210.9" y="360.0" font-size="12" text-anchor="middle" fill="#54688f" font-weight="400">黄海别墅</text><text x="1323.6" y="361.6" font-size="12" text-anchor="end" fill="#9455c8" font-weight="400">烟台金沙滩</text><text x="1323.6" y="374.9" font-size="12" text-anchor="end" fill="#9455c8" font-weight="400">大酒店</text><text x="1385.0" y="375.4" font-size="12" text-anchor="middle" fill="#54688f" font-weight="400">念慈别墅</text><text x="1081.8" y="386.2" font-size="12" text-anchor="middle" fill="#4f8a7c" font-weight="400">黄海小区</text><text x="1218.8" y="410.1" font-size="12" text-anchor="middle" fill="#54688f" font-weight="400">阳光花园</text><text x="1376.5" y="396.3" font-size="12" text-anchor="start" fill="#2f9ab0" font-weight="400">烟台开发区</text><text x="1376.5" y="409.6" font-size="12" text-anchor="start" fill="#2f9ab0" font-weight="400">第一初级中学</text><text x="1305.7" y="435.2" font-size="12" text-anchor="middle" fill="#54688f" font-weight="400">丹阳小区</text><text x="1431.3" y="429.3" font-size="12" text-anchor="end" fill="#8a4fc0" font-weight="400">新时代商城</text><text x="1115.8" y="430.9" font-size="12" text-anchor="start" fill="#8a4fc0" font-weight="400">星海商业广场</text><text x="1139.4" y="465.5" font-size="12" text-anchor="start" fill="#8a4fc0" font-weight="400">振华购物中心</text><text x="1468.5" y="350.6" font-size="12" text-anchor="start" fill="#e0394a" font-weight="400">烟台业达医</text><text x="1496.8" y="436.6" font-size="12" text-anchor="start" fill="#54688f" font-weight="400">晨光小区</text><text x="673.1" y="472.7" font-size="12" text-anchor="middle" fill="#3b8a68" font-weight="400">福莱山市民</text><text x="673.1" y="486.0" font-size="12" text-anchor="middle" fill="#3b8a68" font-weight="400">文化公园</text><text x="825.2" y="497.9" font-size="12" text-anchor="end" fill="#3f8fc0" font-weight="400">烟台工程职业</text><text x="825.2" y="511.2" font-size="12" text-anchor="end" fill="#3f8fc0" font-weight="400">技术学院</text><text x="880.0" y="485.2" font-size="13" text-anchor="middle" fill="#2b2b2b" font-weight="400" transform="rotate(40 880.0 480.5)">珠江路</text><text x="965.0" y="486.9" font-size="12" text-anchor="middle" fill="#2f9a8a" font-weight="400">烟台开发区三中</text><text x="1046.2" y="494.8" font-size="12" text-anchor="start" fill="#4f8a7c" font-weight="400">凤台小区</text><text x="882.5" y="537.3" font-size="12" text-anchor="start" fill="#e0394a" font-weight="400">烟台市昆仑山</text><text x="882.5" y="550.6" font-size="12" text-anchor="start" fill="#e0394a" font-weight="400">医院</text><text x="778.0" y="561.8" font-size="12" text-anchor="start" fill="#54688f" font-weight="400">立雪佳苑</text><text x="598.5" y="580.4" font-size="12" text-anchor="start" fill="#54688f" font-weight="400">锦小区</text><text x="656.5" y="605.0" font-size="12" text-anchor="middle" fill="#555c66" font-weight="400">北屯村</text><text x="852.6" y="596.2" font-size="12" text-anchor="start" fill="#54688f" font-weight="400">北方月光兰庭</text><text x="867.4" y="618.2" font-size="12" text-anchor="end" fill="#2f9ab0" font-weight="400">烟台经济技术开</text><text x="867.4" y="631.5" font-size="12" text-anchor="end" fill="#2f9ab0" font-weight="400">发区实验中学</text><text x="959.7" y="628.0" font-size="12" text-anchor="start" fill="#2f9ab0" font-weight="400">烟台爱华</text><text x="959.7" y="641.3" font-size="12" text-anchor="start" fill="#2f9ab0" font-weight="400">双语学校</text><text x="653.3" y="644.3" font-size="12" text-anchor="end" fill="#8a4fc0" font-weight="400">动物资商场</text><text x="881.9" y="679.0" font-size="12" text-anchor="middle" fill="#2f9ab0" font-weight="400">烟台开发区</text><text x="881.9" y="691.0" font-size="12" text-anchor="middle" fill="#2f9ab0" font-weight="400">高级中学</text><text x="755.0" y="698.1" font-size="12" text-anchor="middle" fill="#54688f" font-weight="400">中粮朗云</text><text x="802.2" y="735.3" font-size="12" text-anchor="middle" fill="#54688f" font-weight="400">香橙</text><text x="740.8" y="754.1" font-size="12" text-anchor="middle" fill="#54688f" font-weight="400">烟台新科</text><text x="740.8" y="767.4" font-size="12" text-anchor="middle" fill="#54688f" font-weight="400">工业集团</text><text x="943.9" y="728.3" font-size="12" text-anchor="middle" fill="#54688f" font-weight="400">佰和悦府</text><text x="983.9" y="721.8" font-size="13" text-anchor="middle" fill="#4a4f57" font-weight="400">天</text><text x="983.9" y="735.4" font-size="13" text-anchor="middle" fill="#4a4f57" font-weight="400">山</text><text x="983.9" y="748.9" font-size="13" text-anchor="middle" fill="#4a4f57" font-weight="400">路</text><text x="1043.1" y="747.9" font-size="12" text-anchor="middle" fill="#54688f" font-weight="400">奇章新城</text><text x="940.8" y="791.9" font-size="12" text-anchor="middle" fill="#54688f" font-weight="400">瑞玺公馆</text><text x="1016.3" y="790.1" font-size="12" text-anchor="start" fill="#54688f" font-weight="400">天颐郦城</text><text x="611.1" y="773.9" font-size="15" text-anchor="start" fill="#8a96a2" font-weight="400">烟台艾迪液压</text><text x="611.1" y="789.3" font-size="15" text-anchor="start" fill="#8a96a2" font-weight="400">科技有限公司</text><text x="1124.6" y="522.7" font-size="12" text-anchor="middle" fill="#4f8a7c" font-weight="400">金城小区</text><text x="1204.6" y="520.5" font-size="12" text-anchor="middle" fill="#8a4fc0" font-weight="400">天地广场</text><text x="1340.9" y="487.5" font-size="12" text-anchor="start" fill="#8a4fc0" font-weight="400">新世纪商贸大厦</text><text x="1289.6" y="544.8" font-size="12" text-anchor="middle" fill="#54688f" font-weight="400">金胜小区</text><text x="1391.9" y="554.2" font-size="12" text-anchor="middle" fill="#54688f" font-weight="400">华电小区</text><text x="1476.3" y="534.1" font-size="12" text-anchor="start" fill="#54688f" font-weight="400">银芝小区</text><text x="1175.0" y="568.1" font-size="12" text-anchor="middle" fill="#54688f" font-weight="400">科技大厦</text><text x="1216.6" y="565.0" font-size="13" text-anchor="middle" fill="#2b2b2b" font-weight="400">衡</text><text x="1216.6" y="578.6" font-size="13" text-anchor="middle" fill="#2b2b2b" font-weight="400">山</text><text x="1216.6" y="592.1" font-size="13" text-anchor="middle" fill="#2b2b2b" font-weight="400">路</text><text x="1291.5" y="598.9" font-size="12" text-anchor="middle" fill="#54688f" font-weight="400">烟台正海电子网</text><text x="1291.5" y="612.2" font-size="12" text-anchor="middle" fill="#54688f" font-weight="400">板股份有限公司</text><text x="1385.0" y="605.0" font-size="12" text-anchor="start" fill="#54688f" font-weight="400">烟台东星集团</text><text x="1385.0" y="618.3" font-size="12" text-anchor="start" fill="#54688f" font-weight="400">有限公司</text><text x="1485.8" y="587.0" font-size="12" text-anchor="start" fill="#6a7a9a" font-weight="400">山东积</text><text x="1485.8" y="600.3" font-size="12" text-anchor="start" fill="#6a7a9a" font-weight="400">科技</text><text x="1103.2" y="601.2" font-size="12" text-anchor="start" fill="#3b78dc" font-weight="400">中国石油</text><text x="1194.5" y="684.9" font-size="12" text-anchor="middle" fill="#54688f" font-weight="400">业达城市广场</text><text x="1294.7" y="694.3" font-size="12" text-anchor="middle" fill="#54688f" font-weight="400">融科林语</text><text x="1364.6" y="683.7" font-size="12" text-anchor="start" fill="#54688f" font-weight="400">金光小区</text><text x="1077.4" y="704.8" font-size="12" text-anchor="start" fill="#54688f" font-weight="400">科技村</text><text x="1222.9" y="720.8" font-size="12" text-anchor="start" fill="#8a4fc0" font-weight="400">万达广场</text><text x="1133.1" y="793.3" font-size="12" text-anchor="start" fill="#54688f" font-weight="400">栖里凤台山庄</text></g>
<clipPath id="rc"><rect x="200" y="96" width="1710" height="975"/></clipPath>
<clipPath id="cpz"><polygon points="1219.7,624.3 1314.2,640.0 1402.3,652.6 1391.3,718.7 1380.3,808.5 1378.0,830.0 1240.0,830.0 1238.6,808.5 1232.3,747.1 1226.0,690.4"/></clipPath><clipPath id="cbz"><polygon points="1402.3,652.6 1474.8,662.1 1511.0,658.9 1530.0,655.0 1530.0,830.0 1378.0,830.0 1380.3,808.5 1391.3,718.7"/></clipPath><clipPath id="coz"><polygon points="1196.8,264.3 1242.7,273.8 1267.5,273.8 1325.8,265.7 1398.8,257.7 1438.0,255.5 1441.7,275.5 1438.5,380.9 1432.2,470.0 1430.7,482.6 1317.3,470.0 1244.9,460.6 1175.6,451.1 1177.2,422.8 1183.5,364.6"/></clipPath>
<defs><g id="rd" fill="none" stroke-linejoin="round" stroke-linecap="round">
<polyline points="195.0,153.0 400.0,201.0 597.6,249.0 761.3,293.7 829.0,309.5 931.3,336.2 1011.6,346.6 1056.0,352.0 1096.9,356.7 1183.5,364.6 1255.9,374.0 1345.7,381.9 1438.5,380.9 1468.5,378.7 1490.5,385.0 1511.0,397.6" stroke-width="5.4" />
<polyline points="778.0,237.0 761.3,293.7 729.8,391.3 723.5,413.4 720.4,432.3 725.1,454.3 731.4,470.0 744.0,485.7 781.8,507.8" stroke-width="5.4" />
<polyline points="829.0,309.5 816.4,356.7 807.0,403.9 810.1,422.8 822.7,441.7 835.3,454.3 860.4,473.4 887.2,499.9" stroke-width="5.4" />
<polyline points="200.0,386.0 597.6,386.6 659.0,386.6 729.8,391.3 807.0,403.9 925.0,418.1 1002.2,429.1 1056.0,437.0 1175.6,451.1 1244.9,460.6 1317.3,470.0 1430.7,482.6 1511.0,492.0" stroke-width="5.4" />
<polyline points="939.8,258.5 931.3,336.2 925.0,418.1 923.4,444.9 910.9,470.0 887.2,499.9" stroke-width="5.4" />
<polyline points="1023.6,249.0 1011.6,346.6 1002.2,429.1 996.0,455.0 990.0,475.0 985.5,496.0" stroke-width="5.4" />
<polyline points="1103.2,323.6 1096.9,356.7 1092.2,407.1 1085.9,470.0 1084.3,599.1" stroke-width="5.4" />
<polyline points="1196.7,273.3 1183.5,364.6 1177.2,422.8 1174.1,470.0 1166.2,536.1 1150.5,595.9 1145.7,614.8" stroke-width="5.4" />
<polyline points="1267.9,275.5 1255.9,374.0 1248.1,470.0 1237.0,545.6" stroke-width="5.4" />
<polyline points="1353.5,326.8 1345.7,381.9 1340.9,470.0 1326.8,559.7 1314.2,640.0 1306.3,709.3 1295.3,808.5" stroke-width="5.4" />
<polyline points="1460.6,251.2 1454.3,268.5 1441.7,275.5 1438.5,380.9 1432.2,470.0 1430.7,482.6 1414.9,570.8 1402.3,652.6 1391.3,718.7 1380.3,808.5 1378.0,830.0" stroke-width="5.4" />
<polyline points="1413.4,381.9 1410.2,470.0 1409.5,481.0" stroke-width="5.4" />
<polyline points="985.5,496.0 983.9,808.5 983.0,1080.0" stroke-width="5.4" />
<polyline points="781.8,507.8 816.4,533.0 851.0,555.0 873.1,573.9 895.1,586.5 920.3,594.4 942.3,599.1 983.3,600.7 1056.0,599.1 1084.3,602.2" stroke-width="5.4" />
<polyline points="887.2,499.9 873.1,517.2 851.0,555.0 756.6,649.5 721.9,684.1 690.5,715.6" stroke-width="5.4" />
<polyline points="813.2,470.0 803.8,479.4 781.8,507.8 684.2,575.5 649.5,611.7 614.9,646.3 614.0,647.0" stroke-width="5.4" />
<polyline points="560.0,520.0 597.6,536.1 643.2,553.4 668.4,564.5 684.2,575.5 756.6,649.5 772.3,665.2 800.7,681.0 829.0,687.2 863.6,684.1 898.3,671.5 914.0,665.2 932.9,665.2 967.5,677.8 1005.3,681.0 1036.8,696.7 1056.0,710.9 1096.9,731.3 1131.6,737.6 1153.6,736.1 1232.3,748.6 1298.4,759.7" stroke-width="5.4" />
<polyline points="649.5,611.7 721.9,684.1 805.4,764.4" stroke-width="5.4" />
<polyline points="829.0,687.2 824.3,748.6 805.4,764.4 762.9,794.3" stroke-width="5.4" />
<polyline points="824.3,748.6 898.3,751.8 983.3,753.4" stroke-width="5.4" />
<polyline points="898.3,671.5 898.3,808.5 898.0,1080.0" stroke-width="5.4" />
<polyline points="797.5,813.2 821.1,792.7 898.3,789.6" stroke-width="5.4" />
<polyline points="983.3,770.7 1056.0,772.3 1059.1,772.3" stroke-width="5.4" />
<polyline points="887.2,499.9 907.7,510.9 932.9,518.8 983.3,522.9 1056.0,519.7 1056.0,518.8 1163.0,536.1 1241.8,547.1 1326.8,559.7 1414.9,570.8 1468.5,575.5 1490.5,562.9" stroke-width="5.4" />
<polyline points="873.1,517.2 892.0,529.8 910.9,537.7 942.3,545.6 981.7,547.1" stroke-width="5.4" />
<polyline points="929.7,520.4 923.4,542.4 910.9,589.6" stroke-width="5.4" />
<polyline points="921.9,595.9 915.6,614.8 914.0,633.7 914.0,665.2" stroke-width="5.4" />
<polyline points="1035.2,518.8 1033.6,597.5" stroke-width="5.4" />
<polyline points="1125.7,529.0 1120.5,548.0 1119.5,569.5" stroke-width="5.4" />
<polyline points="1084.5,564.2 1120.0,569.8 1154.0,576.4" stroke-width="5.4" />
<polyline points="1189.8,544.0 1183.5,577.0 1175.6,595.9 1150.5,605.4" stroke-width="5.4" />
<polyline points="1183.5,589.6 1213.4,592.8" stroke-width="5.4" />
<polyline points="1056.0,599.1 1084.3,605.4 1145.7,614.8 1219.7,624.3 1314.2,640.0 1402.3,652.6 1474.8,662.1 1511.0,658.9 1530.0,655.0" stroke-width="5.4" />
<polyline points="1210.3,547.1 1219.7,624.3 1226.0,690.4 1232.3,747.1 1238.6,808.5 1240.0,830.0" stroke-width="5.4" />
<polyline points="1248.1,470.0 1244.9,470.0 1237.0,545.6" stroke-width="5.4" />
<polyline points="1226.0,693.5 1306.3,704.6 1391.3,718.7" stroke-width="5.4" />
<polyline points="1257.5,699.8 1262.2,753.4 1270.1,808.5 1271.0,830.0" stroke-width="5.4" />
<polyline points="1084.3,605.4 1103.2,630.6 1125.3,658.9 1144.2,687.2 1148.9,709.3 1147.3,808.5 1147.0,830.0" stroke-width="5.4" />
<polyline points="1170.9,684.1 1172.5,737.6" stroke-width="5.4" />
<polyline points="1068.6,720.3 1059.1,743.9 1056.0,808.5" stroke-width="5.4" />
<polyline points="1474.8,662.1 1466.9,721.9 1471.6,808.5 1473.0,830.0" stroke-width="5.4" />
<polyline points="1238.6,808.5 1295.3,803.7 1380.3,781.7 1471.6,762.8 1511.0,750.2 1530.0,740.0" stroke-width="5.4" />
<polyline points="1380.3,803.7 1471.6,788.0 1511.0,780.1" stroke-width="5.4" />
<polyline points="1511.0,507.8 1499.9,548.7 1490.5,562.9 1511.0,595.9" stroke-width="5.4" />
<polyline points="1403.9,605.4 1474.8,618.0 1511.0,610.1" stroke-width="5.4" />
<polyline points="731.4,468.5 797.5,449.6 805.4,470.0 813.2,470.0" stroke-width="5.4" />
<polyline points="829.0,448.0 813.2,470.0 803.8,479.4" stroke-width="5.4" />
<polyline points="1092.2,411.8 1177.2,422.8" stroke-width="5.4" />
<polyline points="1133.1,419.7 1133.1,444.9" stroke-width="5.4" />
<polyline points="1511.0,293.7 1481.1,295.3 1476.3,315.8 1468.5,378.7" stroke-width="5.4" />
<polyline points="1477.9,314.2 1511.0,320.5" stroke-width="5.4" />
<polyline points="1474.8,347.2 1511.0,352.0" stroke-width="5.4" />
<polyline points="1438.5,399.2 1477.9,403.9 1495.2,410.2 1503.1,432.3 1498.4,470.0 1495.2,488.9" stroke-width="5.4" />
<polyline points="1511.0,397.6 1495.2,410.2" stroke-width="5.4" />
<g transform="translate(-4,4)">
<polyline points="540.0,584.0 597.0,636.0 653.0,688.0 691.0,720.0 762.0,793.0 800.0,832.0" stroke="#f6d08c" stroke-width="3.2" />
</g>
<polyline points="540.0,584.0 597.0,636.0 653.0,688.0 691.0,720.0 762.0,793.0 800.0,832.0" stroke-width="8.2" />
<polyline points="272.0,90.0 262.0,130.0 252.0,167.0" stroke-width="5.4" />
</g></defs>
<g fill="none">
<polyline points="1232.3,818.9 1380.3,790.5 1471.6,771.3 1511.0,762.8" stroke="#fdfdfd" stroke-width="3" />
<polyline points="1232.3,818.9 1380.3,790.5 1471.6,771.3 1511.0,762.8" stroke="#8e8e8e" stroke-width="1.5" stroke-dasharray="11 7"/>
</g>
<g clip-path="url(#rc)"><use href="#rd" stroke="#23ad5b"/><use href="#rd" stroke="#229b6c" clip-path="url(#cpz)"/><use href="#rd" stroke="#45b86b" clip-path="url(#cbz)"/><use href="#rd" stroke="#36b163" clip-path="url(#coz)"/></g>
<rect x="200" y="424" width="398.5" height="17" fill="#dfe6f0"/>
<rect x="331" y="424" width="15" height="17" fill="#f3f0ed"/>
<rect x="362" y="424" width="11" height="17" fill="#f3f0ed"/>
<rect x="475" y="424" width="46" height="17" fill="#f3f0ed"/>
<g fill="none"><path d="M338 420L372 446" stroke="#f4d9a6" stroke-width="9"/><path d="M338 420L372 446" stroke="#23ad5b" stroke-width="5.500"/><path d="M407 420L401 446M485 420L480 446M571 420V446" stroke="#23ad5b" stroke-width="5.500"/></g>
<rect x="200" y="796" width="398.5" height="18" fill="#f3f0ed"/>
<polygon points="312.0,814.0 322.0,800.0 372.0,800.0 384.0,814.0" fill="#dfe6f0" />
<g transform="translate(347.0,806.0)"><path d="M0 11.500L-3 7.900A8.600 8.600 0 1 1 3 7.900Z" fill="#5f7cc4"/><path d="M-3.800 4V-4H0.800V4Z M1.600 4V-0.800H4V4Z" fill="#fff"/><path d="M-2.500 -2.400H-0.500M-2.500 -0.400H-0.500" stroke="#5f7cc4" stroke-width="0.900"/></g>
<rect x="1512" y="424" width="393" height="17" fill="#f3f0ed"/>
<rect x="1623" y="424" width="94" height="17" fill="#b6ecd0"/>
<rect x="1722" y="424" width="89" height="17" fill="#8adbf3"/>
<path d="M1525 420L1523 446M1561.500 420L1559.500 446M1619 420L1617 446M1721 420L1718 446" fill="none" stroke="#23ad5b" stroke-width="5.500"/>
<rect x="1512" y="796" width="393" height="18" fill="#f3f0ed"/>
<rect x="1512" y="796" width="39" height="18" fill="#f3e9dc"/>
<rect x="1556" y="796" width="99" height="18" fill="#e4e1dc"/>
<rect x="1655" y="796" width="14" height="18" fill="#f3e9dc"/>
<polygon points="1674.0,796.0 1692.0,796.0 1700.0,814.0 1674.0,814.0" fill="#b6ecd0" />
<polygon points="1692.0,796.0 1741.0,796.0 1741.0,814.0 1700.0,814.0" fill="#8adbf3" />
<path d="M1553.500 792V818M1671.500 792V818" fill="none" stroke="#23ad5b" stroke-width="5.500"/>
<path d="M1884 812L1900 800" stroke="#f8a76f" stroke-width="6" fill="none"/>
<g transform="translate(1307.0,486.0) rotate(-38)"><rect x="-17" y="-7" width="34" height="14" rx="2" fill="#3a3a30" opacity="0.350" transform="translate(1.500,1.500)"/><rect x="-8" y="-6.500" width="25" height="13" rx="1.200" fill="#dcd8be" stroke="#8f8c74" stroke-width="0.800"/><path d="M-5 -6.500V6.500M-1 -6.500V6.500M3 -6.500V6.500M7 -6.500V6.500M11 -6.500V6.500" stroke="#b9b59c" stroke-width="0.700"/><rect x="-17" y="-6.500" width="8.500" height="13" rx="2" fill="#5d7d33"/><rect x="-14" y="-5" width="3" height="10" fill="#7e9a55"/></g>
<circle cx="1316.500" cy="471" r="3.200" fill="#f33"/>
<rect x="1288.5" y="503.5" width="51" height="17" fill="#fff" stroke="#f00" stroke-width="1"/><text x="1314.0" y="516.5" font-size="12" fill="#f00" text-anchor="middle" textLength="46" lengthAdjust="spacingAndGlyphs" font-family="Liberation Serif,Noto Serif CJK SC,serif">鲁FAR905</text>
<g transform="translate(1096.5,624.5) rotate(242)"><rect x="-17" y="-7" width="34" height="14" rx="2" fill="#3a3a30" opacity="0.350" transform="translate(1.500,1.500)"/><rect x="-8" y="-6.500" width="25" height="13" rx="1.200" fill="#dcd8be" stroke="#8f8c74" stroke-width="0.800"/><path d="M-5 -6.500V6.500M-1 -6.500V6.500M3 -6.500V6.500M7 -6.500V6.500M11 -6.500V6.500" stroke="#b9b59c" stroke-width="0.700"/><rect x="-17" y="-6.500" width="8.500" height="13" rx="2" fill="#5d7d33"/><rect x="-14" y="-5" width="3" height="10" fill="#7e9a55"/></g>
<circle cx="1082" cy="613.500" r="3.200" fill="#f33"/>
<rect x="1074.5" y="642.5" width="51" height="17" fill="#fff" stroke="#f00" stroke-width="1"/><text x="1100.0" y="655.5" font-size="12" fill="#f00" text-anchor="middle" textLength="46" lengthAdjust="spacingAndGlyphs" font-family="Liberation Serif,Noto Serif CJK SC,serif">鲁FBD530</text></svg></div>
<div class="bar inp" style="left:206px;width:314px;top:101px;height:30px;font-size:12px;line-height:28px;color:#c0c4cc;padding-left:7px">请输入车辆、设施、路段等信息查找</div>
<div class="sq" style="left:524px;top:102px;width:29px;height:29px;z-index:5"><svg class="abs" style="left:5px;top:5px" width="19" height="19" viewBox="0 0 19 19"><circle cx="8" cy="8" r="5.6" fill="none" stroke="#fff" stroke-width="1.8"/><path d="M12.200 12.200L17 17" stroke="#fff" stroke-width="2" stroke-linecap="round"/></svg></div>
<div class="sq" style="left:557px;top:102px;width:29px;height:29px;z-index:5"><svg class="abs" style="left:7px;top:7px" width="15" height="15" viewBox="0 0 15 15"><path d="M2 2L13 13M13 2L2 13" stroke="#fff" stroke-width="1.900" stroke-linecap="round"/></svg></div>
<div class="bar bg" style="left:681px;width:240px"><div style="width:48px">车辆</div><div class="l" style="width:48px">设施</div><div style="width:48px">区域</div><div style="width:48px">路街</div><div class="l" style="width:48px">图例</div></div>
<div class="bar bg" style="left:1107px;width:152px"><div style="width:76px">垃圾收运</div><div class="l" style="width:76px">垃圾转运</div></div>
<div class="db" style="left:1578px">前天</div><div class="db" style="left:1627px">昨天</div><div class="db" style="left:1676px;background:#2d80e8;border-color:#2d80e8;color:#fff">今天</div>
<div class="bar inp" style="left:1725px;width:180px;top:101px;height:30px;font-family:'Liberation Sans',sans-serif;font-size:14px;line-height:28px;color:#606266;padding-left:7px">2025-03-27<svg class="abs" style="left:156px;top:7px" width="14" height="14" viewBox="0 0 14 14" fill="none" stroke="#b4b8c0" stroke-width="1"><rect x="1.500" y="2.500" width="11" height="10"/><path d="M1.500 5.500H12.500M4.500 1V3.500M9.500 1V3.500"/></svg></div>
<div class="sq" style="left:1470px;top:141px;width:30px;height:30px;z-index:5;border-radius:2px"><svg class="abs" style="left:0;top:0" width="30" height="30" viewBox="0 0 30 30"><path d="M7 8.500H23.500M13.500 13H23.500M13.500 17H23.500M7 21.500H23.500" stroke="#fff" stroke-width="1.800" fill="none"/><path d="M11 11.500V18.500L6.800 15Z" fill="#fff"/></svg></div>
<div class="sq" style="left:1470px;top:181px;width:30px;height:30px;z-index:5;border-radius:2px"><svg class="abs" style="left:0;top:0" width="30" height="30" viewBox="0 0 30 30"><g transform="rotate(35 15 15)" fill="none" stroke="#fff" stroke-width="1.600"><rect x="5" y="11" width="20" height="8" rx="0.800"/><path d="M8.500 11V14M11.500 11V13M14.500 11V14M17.500 11V13M20.500 11V14" stroke-width="1.100"/></g></svg></div>
<div class="sq" style="left:1470px;top:221px;width:30px;height:30px;z-index:5;border-radius:2px"><svg class="abs" style="left:0;top:0" width="30" height="30" viewBox="0 0 30 30"><g transform="rotate(45 15 15)" fill="none" stroke="#fff" stroke-width="1.600"><path d="M13 4.500H17V11.500H21.500V15.500H8.500V11.500H13Z"/><path d="M8.500 15.500V23.500H21.500V15.500M12 19.500V23.500M15 18.500V23.500M18 19.500V23.500"/></g></svg></div>
<div class="sq" style="left:1470px;top:261px;width:30px;height:30px;z-index:5;border-radius:2px"><svg class="abs" style="left:0;top:0" width="30" height="30" viewBox="0 0 30 30"><rect x="6" y="6" width="18" height="18" fill="none" stroke="#fff" stroke-width="1.800"/><path d="M9.500 14.500L13.500 18.500L21 10.500" fill="none" stroke="#fff" stroke-width="2"/></svg></div>
<div class="card" style="left:205px;top:137.5px;width:393px;height:292.0px"><h3>完成率</h3><span class="an">分析</span></div>
<svg class="abs" style="left:265px;top:243px;z-index:6" width="94" height="94" viewBox="265 243 94 94"><path d="M283.36 318.64A40.5 40.5 0 1 1 340.64 318.64" fill="none" stroke="#ececec" stroke-width="9" stroke-linecap="round"/><defs><linearGradient id="g1" gradientUnits="userSpaceOnUse" x1="267.0" y1="0" x2="280.2" y2="0"><stop offset="0" stop-color="#7a2ff0"/><stop offset="0.3" stop-color="#9a22e0"/></linearGradient></defs><path d="M283.36 318.64A40.5 40.5 0 0 1 276.81 269.94" fill="none" stroke="url(#g1)" stroke-width="9" stroke-linecap="round"/></svg>
<div class="c num gy" style="left:312px;top:290.5px;font-size:14.5px;z-index:6;transform:translate(-50%,-50%)"><span style="display:inline-block;transform:scaleX(1.1) skewX(-2deg)">27.66<span class="u" style="font-size:12px;color:#5a5a5a">%</span></span></div>
<svg class="abs" style="left:444px;top:243px;z-index:6" width="94" height="94" viewBox="444 243 94 94"><path d="M462.36 318.64A40.5 40.5 0 1 1 519.64 318.64" fill="none" stroke="#ececec" stroke-width="9" stroke-linecap="round"/><defs><linearGradient id="g2" gradientUnits="userSpaceOnUse" x1="446.0" y1="0" x2="459.2" y2="0"><stop offset="0" stop-color="#ea9ca0"/><stop offset="0.3" stop-color="#e68a96"/></linearGradient></defs><path d="M462.36 318.64A40.5 40.5 0 0 1 456.52 268.75" fill="none" stroke="url(#g2)" stroke-width="9" stroke-linecap="round"/></svg>
<div class="c num gy" style="left:491px;top:290.5px;font-size:14.5px;z-index:6;transform:translate(-50%,-50%)"><span style="display:inline-block;transform:scaleX(1.1) skewX(-2deg)">28.39<span class="u" style="font-size:12px;color:#5a5a5a">%</span></span></div>
<div class="c lb" style="left:312px;top:349px;z-index:6;transform:translate(-50%,-50%)">总点位完成率</div>
<div class="c lb" style="left:491px;top:349px;z-index:6;transform:translate(-50%,-50%)">总点次完成率</div>
<div class="card" style="left:205px;top:435.5px;width:393px;height:366.0px"><h3>出勤</h3><span class="an">分析</span></div>
<svg class="abs" style="left:270px;top:478.5px;z-index:6" width="84" height="84" viewBox="270 478.5 84 84"><path d="M286.54 545.96A36.0 36.0 0 1 1 337.46 545.96" fill="none" stroke="#ececec" stroke-width="8" stroke-linecap="round"/><defs><linearGradient id="g3" gradientUnits="userSpaceOnUse" x1="272.0" y1="0" x2="340.3" y2="0"><stop offset="0" stop-color="#d6e82a"/><stop offset="0.3" stop-color="#e4d626"/><stop offset="0.65" stop-color="#eeb02a"/><stop offset="1" stop-color="#f0842f"/></linearGradient></defs><path d="M286.54 545.96A36.0 36.0 0 1 1 337.46 495.05" fill="none" stroke="url(#g3)" stroke-width="8" stroke-linecap="round"/></svg>
<div class="c num gy" style="left:312px;top:521.0px;font-size:14.5px;z-index:6;transform:translate(-50%,-50%)"><span style="display:inline-block;transform:scaleX(1.1) skewX(-2deg)">66.67<span class="u" style="font-size:12px;color:#5a5a5a">%</span></span></div>
<svg class="abs" style="left:449px;top:478.5px;z-index:6" width="84" height="84" viewBox="449 478.5 84 84"><path d="M465.54 545.96A36.0 36.0 0 1 1 516.46 545.96" fill="none" stroke="#ececec" stroke-width="8" stroke-linecap="round"/><defs><linearGradient id="g4" gradientUnits="userSpaceOnUse" x1="451.0" y1="0" x2="470.3" y2="0"><stop offset="0" stop-color="#1fe39d"/><stop offset="0.5" stop-color="#2fdc9a"/></linearGradient></defs><path d="M465.54 545.96A36.0 36.0 0 0 1 472.37 489.69" fill="none" stroke="url(#g4)" stroke-width="8" stroke-linecap="round"/></svg>
<div class="c num gy" style="left:491px;top:521.0px;font-size:14.5px;z-index:6;transform:translate(-50%,-50%)"><span style="display:inline-block;transform:scaleX(1.1) skewX(-2deg)">38.46<span class="u" style="font-size:12px;color:#5a5a5a">%</span></span></div>
<div class="c lb" style="left:312px;top:575.8px;z-index:6;transform:translate(-50%,-50%)">计划出车率</div>
<div class="c lb" style="left:491px;top:575.8px;z-index:6;transform:translate(-50%,-50%)">车辆使用率</div>
<div class="c num bl" style="left:267px;top:618.8px;font-size:18px;z-index:6;transform:translate(-50%,-50%)"><span style="display:inline-block;transform:scaleX(1.22)"><i class="n1"><i>1</i></i>3</span></div>
<div class="c lb" style="left:267px;top:643px;z-index:6;transform:translate(-50%,-50%)">车辆总数</div>
<div class="c num bl" style="left:357px;top:618.8px;font-size:18px;z-index:6;transform:translate(-50%,-50%)"><span style="display:inline-block;transform:scaleX(1.22)">6</span></div>
<div class="c lb" style="left:357px;top:643px;z-index:6;transform:translate(-50%,-50%)">计划出车</div>
<div class="c num bl" style="left:446.5px;top:618.8px;font-size:18px;z-index:6;transform:translate(-50%,-50%)"><span style="display:inline-block;transform:scaleX(1.22)">5</span></div>
<div class="c lb" style="left:446.5px;top:643px;z-index:6;transform:translate(-50%,-50%)">实际出车</div>
<div class="c num bl" style="left:536px;top:618.8px;font-size:18px;z-index:6;transform:translate(-50%,-50%)"><span style="display:inline-block;transform:scaleX(1.22)">2</span></div>
<div class="c lb" style="left:536px;top:643px;z-index:6;transform:translate(-50%,-50%)">缺勤车辆</div>
<div class="c num bl" style="left:267px;top:686.8px;font-size:18px;z-index:6;transform:translate(-50%,-50%)"><span style="display:inline-block;transform:scaleX(1.22)">0</span></div>
<div class="c lb" style="left:267px;top:711px;z-index:6;transform:translate(-50%,-50%)">报修车辆</div>
<div class="c num bl" style="left:357px;top:686.8px;font-size:18px;z-index:6;transform:translate(-50%,-50%)"><span style="display:inline-block;transform:scaleX(1.22)">6</span></div>
<div class="c lb" style="left:357px;top:711px;z-index:6;transform:translate(-50%,-50%)">正常休息</div>
<div class="c num bl" style="left:446.5px;top:686.8px;font-size:18px;z-index:6;transform:translate(-50%,-50%)"><span style="display:inline-block;transform:scaleX(1.22)">0</span></div>
<div class="c lb" style="left:446.5px;top:711px;z-index:6;transform:translate(-50%,-50%)">其他车辆</div>
<div class="card" style="left:205px;top:806.5px;width:393px;height:268.5px"><h3>里程</h3><span class="an">分析</span></div>
<div class="c " style="left:312px;top:868.5px;z-index:6;transform:translate(-50%,-50%)"><span class="num or" style="font-size:17.2px;display:inline-block;margin:0 5.4px;transform:scaleX(1.163) skewX(-4deg)">368.80</span> <span class="u">km</span></div>
<div class="c lb" style="left:312px;top:891.5px;z-index:6;transform:translate(-50%,-50%)">行驶总里程</div>
<div class="c cmp" style="left:312px;top:913px;z-index:6;transform:translate(-50%,-50%)">比前7天 <b>0</b> %</div>
<div class="c " style="left:491px;top:868.5px;z-index:6;transform:translate(-50%,-50%)"><span class="num or" style="font-size:17.2px;display:inline-block;margin:0 4.0px;transform:scaleX(1.163) skewX(-4deg)"><i class="n1"><i>1</i></i>5.27</span> <span class="u">km/h</span></div>
<div class="c lb" style="left:491px;top:891.5px;z-index:6;transform:translate(-50%,-50%)">平均行驶速度</div>
<div class="c cmp" style="left:491px;top:913px;z-index:6;transform:translate(-50%,-50%)">比前7天 <b>0</b> %</div>
<div class="c " style="left:312px;top:951px;z-index:6;transform:translate(-50%,-50%)"><span class="num or" style="font-size:17.2px;display:inline-block;margin:0 4.4px;transform:scaleX(1.163) skewX(-4deg)">73.76</span> <span class="u">km</span></div>
<div class="c lb" style="left:312px;top:973.5px;z-index:6;transform:translate(-50%,-50%)">单车日均行驶里程</div>
<div class="c cmp" style="left:312px;top:995.5px;z-index:6;transform:translate(-50%,-50%)">比前7天 <b>0</b> %</div>
<div class="c " style="left:491px;top:951px;z-index:6;transform:translate(-50%,-50%)"><span class="num or" style="font-size:17.2px;display:inline-block;margin:0 4.4px;transform:scaleX(1.163) skewX(-4deg)">52.69</span> <span class="u">km</span></div>
<div class="c lb" style="left:491px;top:973.5px;z-index:6;transform:translate(-50%,-50%)">单趟里程</div>
<div class="c cmp" style="left:491px;top:995.5px;z-index:6;transform:translate(-50%,-50%)">比前7天 <b>0</b> %</div>
<div class="card" style="left:602.7px;top:806.5px;width:449.79999999999995px;height:268.5px"><h3>时间</h3><span class="an">分析</span></div>
<svg class="abs" style="left:642px;top:851px;z-index:6" width="94" height="94" viewBox="642 851 94 94"><path d="M660.36 926.64A40.5 40.5 0 1 1 717.64 926.64" fill="none" stroke="#ececec" stroke-width="9" stroke-linecap="round"/><defs><linearGradient id="g5" gradientUnits="userSpaceOnUse" x1="644.1" y1="0" x2="734.0" y2="0"><stop offset="0" stop-color="#29e898"/><stop offset="0.5" stop-color="#20bfc6"/><stop offset="1" stop-color="#1a94f2"/></linearGradient></defs><path d="M660.36 926.64A40.5 40.5 0 1 1 727.83 909.49" fill="none" stroke="url(#g5)" stroke-width="9" stroke-linecap="round"/></svg>
<div class="c num gy" style="left:689px;top:898.5px;font-size:14.5px;z-index:6;transform:translate(-50%,-50%)"><span style="display:inline-block;transform:scaleX(1.1) skewX(-2deg)">89.44<span style="font-size:13px">%</span></span></div>
<div class="c lb" style="left:689px;top:957px;z-index:6;transform:translate(-50%,-50%)">时间完成率</div>
<div class="c cmp" style="left:689px;top:979px;z-index:6;transform:translate(-50%,-50%)">比前7天 <b>0</b> %</div>
<div class="c " style="left:827px;top:885px;z-index:6;transform:translate(-50%,-50%)"><span class="num bl" style="font-size:17.2px;display:inline-block;margin:0 4.0px;transform:scaleX(1.163) skewX(-4deg)">24.<i class="n1"><i>1</i></i>5</span> <span class="u">h</span></div>
<div class="c lb" style="left:827px;top:909px;z-index:6;transform:translate(-50%,-50%)">总出车时长</div>
<div class="c cmp" style="left:827px;top:930.5px;z-index:6;transform:translate(-50%,-50%)">比前7天 <b>0</b> %</div>
<div class="c " style="left:966px;top:885px;z-index:6;transform:translate(-50%,-50%)"><span class="num bl" style="font-size:17.2px;display:inline-block;margin:0 3.5px;transform:scaleX(1.163) skewX(-4deg)">4.83</span> <span class="u">h</span></div>
<div class="c lb" style="left:966px;top:909px;z-index:6;transform:translate(-50%,-50%)">单车日均出车时长</div>
<div class="c cmp" style="left:966px;top:930.5px;z-index:6;transform:translate(-50%,-50%)">比前7天 <b>0</b> %</div>
<div class="c " style="left:827px;top:991px;z-index:6;transform:translate(-50%,-50%)"><span class="num bl" style="font-size:17.2px;display:inline-block;margin:0 3.5px;transform:scaleX(1.163) skewX(-4deg)">3.45</span> <span class="u">h</span></div>
<div class="c lb" style="left:827px;top:1013.5px;z-index:6;transform:translate(-50%,-50%)">单趟时长</div>
<div class="c cmp" style="left:827px;top:1035.5px;z-index:6;transform:translate(-50%,-50%)">比前7天 <b>0</b> %</div>
<div class="card" style="left:1058px;top:806.5px;width:448.5px;height:268.5px"><h3>重量</h3><span class="an">分析</span></div>
<svg class="abs" style="left:1096px;top:851px;z-index:6" width="94" height="94" viewBox="1096 851 94 94"><path d="M1114.36 926.64A40.5 40.5 0 1 1 1171.64 926.64" fill="none" stroke="#ececec" stroke-width="9" stroke-linecap="round"/></svg>
<div class="c num gy" style="left:1143px;top:898.5px;font-size:14.5px;z-index:6;transform:translate(-50%,-50%)"><span style="display:inline-block;transform:scaleX(1.1) skewX(-2deg)">0<span class="num gy" style="font-size:15px">%</span></span></div>
<div class="c lb" style="left:1143px;top:957px;z-index:6;transform:translate(-50%,-50%)">满载率</div>
<div class="c cmp" style="left:1143px;top:978.5px;z-index:6;transform:translate(-50%,-50%)">比前7天 <b>0</b> %</div>
<div class="c " style="left:1281px;top:885px;z-index:6;transform:translate(-50%,-50%)"><span class="num or" style="font-size:17.2px;display:inline-block;margin:0 1.0px;transform:scaleX(1.163) skewX(-4deg)">7</span></div>
<div class="c lb" style="left:1281px;top:909px;z-index:6;transform:translate(-50%,-50%)">总趟次</div>
<div class="c cmp" style="left:1281px;top:930.5px;z-index:6;transform:translate(-50%,-50%)">比前7天 <b>0</b> %</div>
<div class="c " style="left:1420px;top:885px;z-index:6;transform:translate(-50%,-50%)"><span class="num or" style="font-size:17.2px;display:inline-block;margin:0 1.0px;transform:scaleX(1.163) skewX(-4deg)">0</span> <span class="u">t</span></div>
<div class="c lb" style="left:1420px;top:909px;z-index:6;transform:translate(-50%,-50%)">地磅重量</div>
<div class="c cmp" style="left:1420px;top:930.5px;z-index:6;transform:translate(-50%,-50%)">比前7天 <b>0</b> %</div>
<div class="c " style="left:1281px;top:990.5px;z-index:6;transform:translate(-50%,-50%)"><span class="num or" style="font-size:17.2px;display:inline-block;margin:0 3.0px;transform:scaleX(1.163) skewX(-4deg)"><i class="n1"><i>1</i></i>.40</span></div>
<div class="c lb" style="left:1281px;top:1013.5px;z-index:6;transform:translate(-50%,-50%)">单车日均趟次</div>
<div class="c cmp" style="left:1281px;top:1035.5px;z-index:6;transform:translate(-50%,-50%)">比前7天 <b>0</b> %</div>
<div class="c " style="left:1420px;top:990.5px;z-index:6;transform:translate(-50%,-50%)"><span class="num or" style="font-size:17.2px;display:inline-block;margin:0 1.0px;transform:scaleX(1.163) skewX(-4deg)">0</span> <span class="u">t</span></div>
<div class="c lb" style="left:1420px;top:1013.5px;z-index:6;transform:translate(-50%,-50%)">单车日均地磅重量</div>
<div class="c cmp" style="left:1420px;top:1035.5px;z-index:6;transform:translate(-50%,-50%)">比前7天 <b>0</b> %</div>
<div class="card" style="left:1512px;top:806.5px;width:393px;height:268.5px"><h3>能耗</h3><span class="an">分析</span></div>
<div class="c " style="left:1618px;top:907px;z-index:6;transform:translate(-50%,-50%)"><span class="num bl" style="font-size:17.2px;display:inline-block;margin:0 4.4px;transform:scaleX(1.163) skewX(-4deg)"><i class="n1"><i>1</i></i>87.2<i class="n1"><i>1</i></i></span> <span class="u">L</span></div>
<div class="c lb" style="left:1618px;top:930.5px;z-index:6;transform:translate(-50%,-50%)">总油耗</div>
<div class="c " style="left:1798px;top:907px;z-index:6;transform:translate(-50%,-50%)"><span class="num bl" style="font-size:17.2px;display:inline-block;margin:0 1.0px;transform:scaleX(1.163) skewX(-4deg)">0</span> <span class="u">kW.h</span></div>
<div class="c lb" style="left:1798px;top:930.5px;z-index:6;transform:translate(-50%,-50%)">总电耗</div>
<div class="c " style="left:1618px;top:970px;z-index:6;transform:translate(-50%,-50%)"><span class="num bl" style="font-size:17.2px;display:inline-block;margin:0 4.4px;transform:scaleX(1.163) skewX(-4deg)">50.76</span> <span class="u">L/100km</span></div>
<div class="c lb" style="left:1618px;top:993px;z-index:6;transform:translate(-50%,-50%)">百公里油耗</div>
<div class="c cmp" style="left:1618px;top:1014.5px;z-index:6;transform:translate(-50%,-50%)">比前7天 <b>0</b> %</div>
<div class="c " style="left:1798px;top:970px;z-index:6;transform:translate(-50%,-50%)"><span class="num bl" style="font-size:17.2px;display:inline-block;margin:0 1.0px;transform:scaleX(1.163) skewX(-4deg)">0</span> <span class="u">kW.h/100km</span></div>
<div class="c lb" style="left:1798px;top:993px;z-index:6;transform:translate(-50%,-50%)">百公里电耗</div>
<div class="c cmp" style="left:1798px;top:1014.5px;z-index:6;transform:translate(-50%,-50%)">比前7天 <b>0</b> %</div>
<div class="card" style="left:1512px;top:137.5px;width:393px;height:292.0px"><h3>收运</h3><span class="an" style="top:9.7px;right:17px">分析</span></div>
<div class="abs" style="left:1701px;top:145px;width:160px;height:24px;z-index:6;font-size:14px;line-height:22px;text-align:center;color:#303133"><div class="abs" style="left:0;top:0;width:160px;height:24px;border:1px solid #dcdfe6;border-radius:3px"></div><div class="abs" style="left:53px;top:0;width:54px;height:24px;border-left:1px solid #dcdfe6;border-right:1px solid #dcdfe6;line-height:24px">点次</div><div class="abs" style="left:107px;top:0;width:53px;height:24px;line-height:24px">桶数</div><div class="abs" style="left:0;top:0;width:54px;height:24px;border:1px solid #2d80e8;border-radius:3px 0 0 3px;color:#2d80e8">点位</div></div>
<svg class="abs" style="left:1552.5px;top:187.5px;z-index:6" width="72" height="72" viewBox="1552.5 187.5 72 72"><circle cx="1588.5" cy="223.5" r="30.75" fill="none" stroke="#3960c0" stroke-width="6.5"/><path d="M1566.76 245.24A30.75 30.75 0 0 1 1557.75 223.50" fill="none" stroke="#2b8cf2" stroke-width="6.5"/></svg>
<div class="c " style="left:1588.5px;top:221.2px;font-size:14.5px;color:#3d3d3d;font-family:'Noto Sans CJK SC',sans-serif;z-index:6;transform:translate(-50%,-50%)">235</div>
<svg class="abs" style="left:1671.5px;top:187.5px;z-index:6" width="72" height="72" viewBox="1671.5 187.5 72 72"><circle cx="1707.5" cy="223.5" r="30.75" fill="none" stroke="#3960c0" stroke-width="6.5"/><path d="M1677.42 229.89A30.75 30.75 0 0 1 1676.75 223.50" fill="none" stroke="#2b8cf2" stroke-width="6.5"/></svg>
<div class="c " style="left:1707.5px;top:221.2px;font-size:14.5px;color:#3d3d3d;font-family:'Noto Sans CJK SC',sans-serif;z-index:6;transform:translate(-50%,-50%)">26</div>
<svg class="abs" style="left:1792px;top:187.5px;z-index:6" width="72" height="72" viewBox="1792 187.5 72 72"><circle cx="1828" cy="223.5" r="30.75" fill="none" stroke="#3960c0" stroke-width="6.5"/><path d="M1811.70 249.58A30.75 30.75 0 0 1 1797.25 223.50" fill="none" stroke="#2b8cf2" stroke-width="6.5"/></svg>
<div class="c " style="left:1828px;top:221.2px;font-size:14.5px;color:#3d3d3d;font-family:'Noto Sans CJK SC',sans-serif;z-index:6;transform:translate(-50%,-50%)">170</div>
<div class="c lb" style="left:1588px;top:278px;z-index:6;transform:translate(-50%,-50%)">计划应收点位</div>
<div class="c lb" style="left:1708px;top:278px;z-index:6;transform:translate(-50%,-50%)">计划实收点位</div>
<div class="c lb" style="left:1828px;top:278px;z-index:6;transform:translate(-50%,-50%)">漏收点位</div>
<div class="c " style="left:1587px;top:312px;font-size:20px;color:#2d80e8;z-index:6;transform:translate(-50%,-50%)">0</div>
<div class="c " style="left:1704px;top:312px;font-size:20px;color:#2d80e8;z-index:6;transform:translate(-50%,-50%)">90</div>
<div class="c lb" style="left:1587px;top:336px;z-index:6;transform:translate(-50%,-50%)">疑似点位</div>
<div class="c lb" style="left:1704px;top:336px;z-index:6;transform:translate(-50%,-50%)">计划外点位</div>
<div class="card" style="left:1512px;top:435.5px;width:393px;height:366.0px"><h3>异常</h3></div>
<svg class="abs" style="left:1689px;top:512px;z-index:6" width="38" height="38" viewBox="0 0 38 38" fill="none" stroke="#4a4a4a" stroke-width="1.800"><path d="M8.500 6.500V4C8.500 3 9 2.500 10 2.500H34C35 2.500 35.500 3 35.500 4V30C35.500 31 35 31.500 34 31.500H31.500"/><path d="M17 36H4C3 36 2.500 35.500 2.500 34.500V8C2.500 7 3 6.500 4 6.500H28.500C29.500 6.500 30 7 30 8V20"/><path d="M7.500 13H24M7.500 18.500H15M7.500 24H13"/><circle cx="22.500" cy="26.500" r="5.800"/><path d="M26.800 30.800L31.500 35.500" stroke-width="2.200"/></svg>
<div class="c lb" style="left:1708px;top:574.5px;z-index:6;transform:translate(-50%,-50%)">暂无数据</div>
</body></html>
